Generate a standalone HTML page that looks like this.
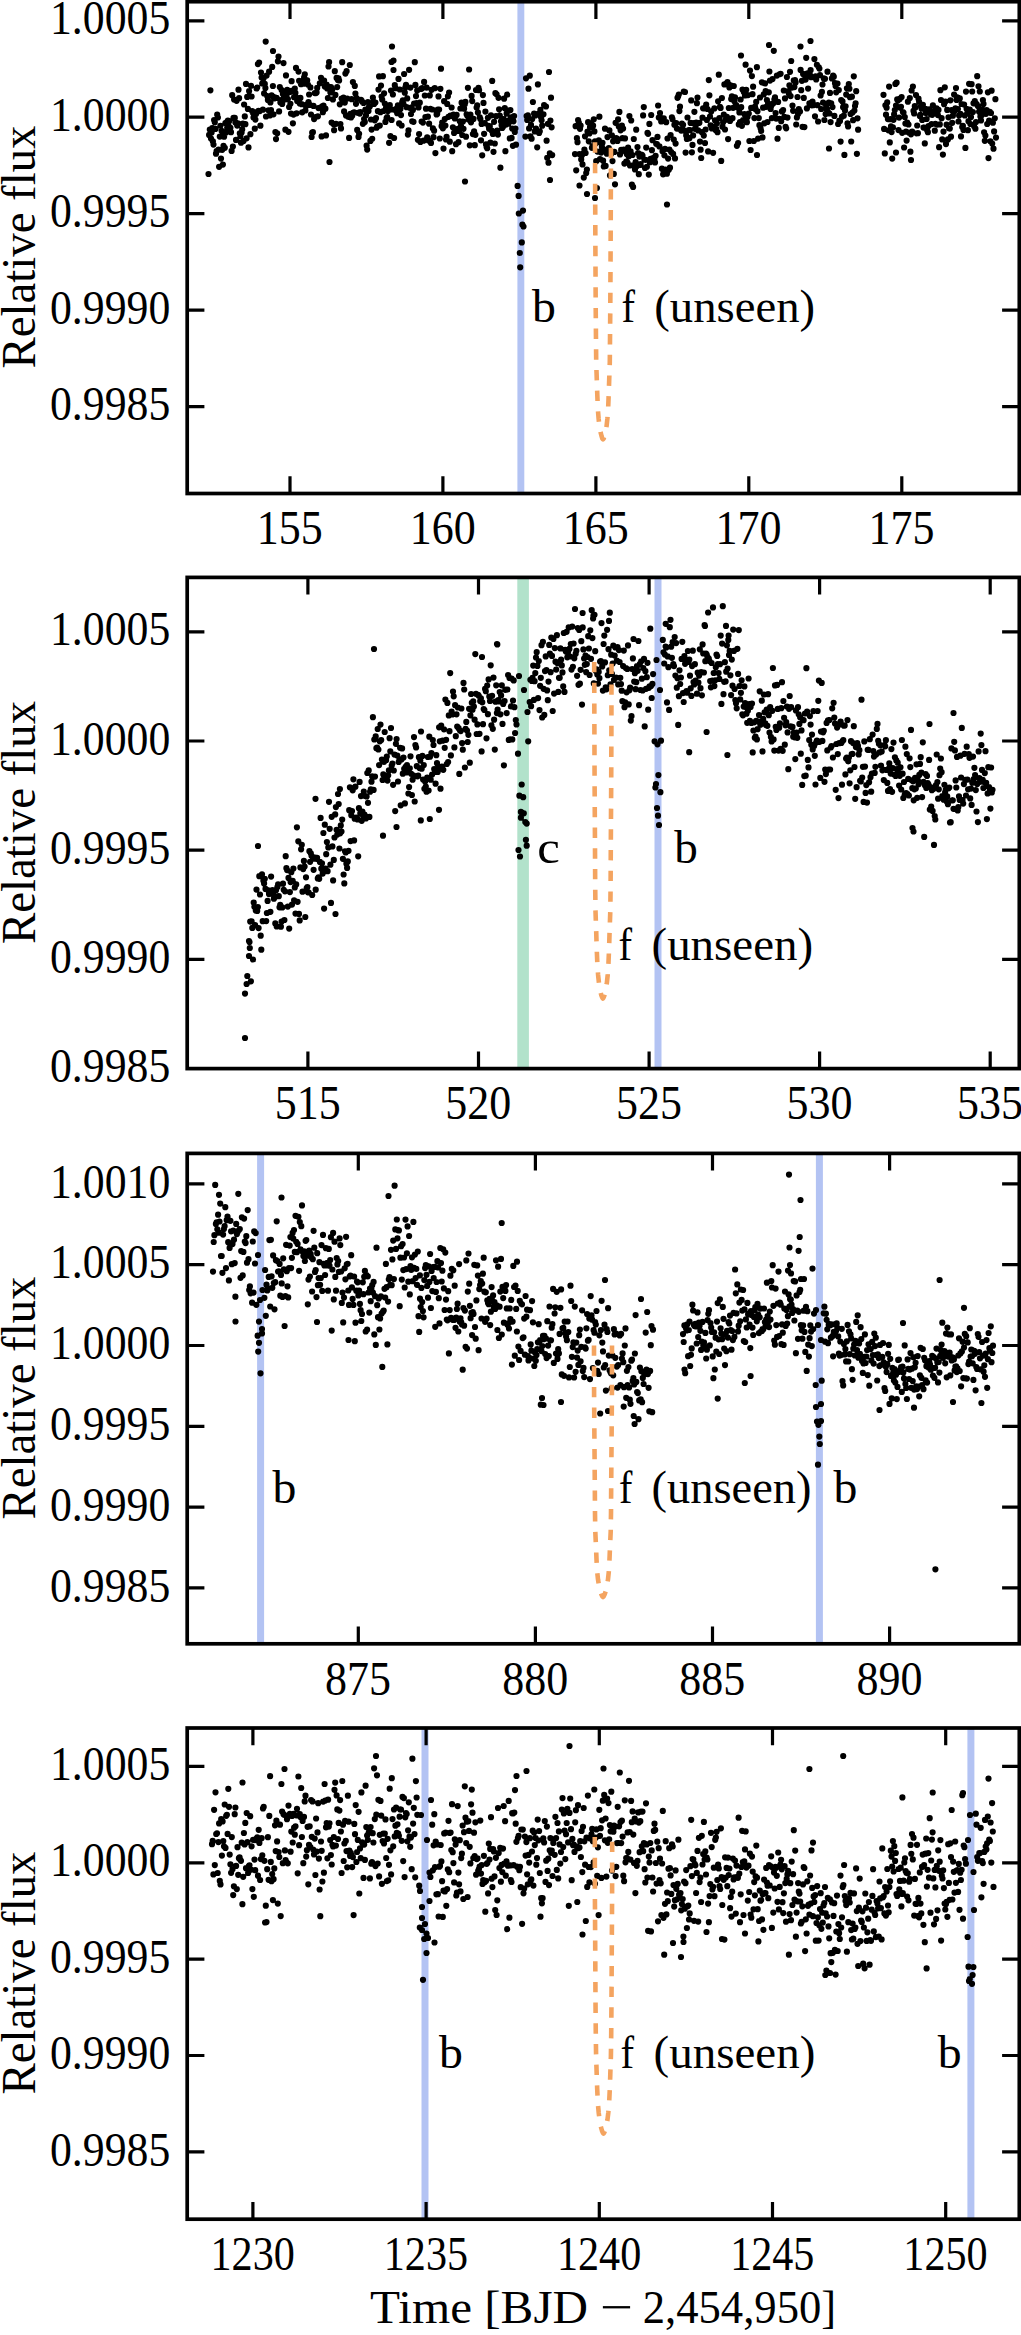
<!DOCTYPE html>
<html lang="en">
<head>
<meta charset="utf-8">
<title>Relative flux vs. time</title>
<style>
html,body{margin:0;padding:0;background:#fff}
svg{display:block}
text{font-family:"Liberation Serif", "DejaVu Serif", serif;fill:#000}
.n{font-size:49.4px}
.t{font-size:46.8px}
.yl{font-size:49.2px}
.sp{fill:none;stroke:#000;stroke-width:3.7}
.tk{fill:none;stroke:#000;stroke-width:3.2}
.dots{fill:none;stroke:#000;stroke-width:6.2;stroke-linecap:round}
.tr{fill:none;stroke:#f4a460;stroke-width:4.6;stroke-dasharray:10.35 10.35;stroke-linejoin:round}
</style>
</head>
<body>
<svg width="1021" height="2335" viewBox="0 0 1021 2335">
<rect width="1021" height="2335" fill="#fff"/>
<g id="panel1">
<rect x="517.4" y="1.7" width="6.9" height="491.8" fill="#b3c3f3"/>
<path class="dots" d="M208.5 174h0M209.1 134.9h0M209.8 129.6h0M210.4 90.3h0M211 138.5h0M211.6 132.5h0M212.2 128h0M212.9 141.4h0M213.5 144.6h0M214.1 120.1h0M214.8 122.2h0M215.4 128.9h0M216 153.7h0M216.6 151h0M217.2 114.7h0M217.9 117.5h0M218.5 149.7h0M219.1 166.8h0M219.8 136.6h0M220.4 125.8h0M221 158.6h0M221.6 130.9h0M222.2 149.8h0M222.9 164.6h0M223.5 145.9h0M224.1 136.7h0M224.8 147.8h0M225.4 123h0M226 132.6h0M226.6 122.3h0M227.2 127.8h0M227.9 120.7h0M228.5 125.5h0M229.1 121.2h0M229.8 129.6h0M230.4 127.8h0M231 132.2h0M231.6 150.9h0M232.2 95.2h0M232.9 146.5h0M233.5 117.9h0M234.1 99.6h0M234.8 117.9h0M235.4 122.4h0M236 139.9h0M236.6 100.8h0M237.2 125.6h0M237.9 123.4h0M238.5 89.7h0M239.1 98.2h0M239.8 133.3h0M240.4 136.2h0M241 142.7h0M241.6 132.4h0M242.2 129.4h0M242.9 123.7h0M243.5 141.1h0M244.1 104.5h0M244.8 116.4h0M245.4 124.2h0M246 83.9h0M246.6 138.3h0M247.2 96.9h0M247.9 108.9h0M248.5 147.4h0M249.1 91.1h0M249.8 96.2h0M250.4 134.2h0M251 85.8h0M251.6 96.5h0M252.2 111.2h0M252.9 112.7h0M253.5 117.6h0M254.1 112.1h0M254.8 128.7h0M255.4 119.6h0M256 113.9h0M256.6 88.4h0M257.2 87.6h0M257.9 64.1h0M258.5 110.8h0M259.1 62.6h0M259.8 111.1h0M260.4 125.7h0M261 72.6h0M261.6 77.6h0M262.2 83.5h0M262.9 109.7h0M263.5 78.5h0M264.1 93.4h0M264.8 83.9h0M265.4 88.1h0M266 116.5h0M266.6 75.6h0M267.2 96.1h0M267.9 100.1h0M268.5 110.3h0M269.1 71.7h0M269.8 115.4h0M270.4 102.4h0M271 110.1h0M271.6 95.3h0M272.2 66.9h0M272.9 86h0M273.5 114.3h0M274.1 98.4h0M274.8 97.3h0M275.4 132h0M276 139.1h0M276.6 97.8h0M277.2 133.3h0M277.9 61.3h0M278.5 56.6h0M279.1 111.4h0M279.8 87h0M280.4 102.4h0M281 100.1h0M281.6 90h0M282.2 103.9h0M282.9 93.9h0M283.5 63.1h0M284.1 97h0M284.8 99.4h0M285.4 129.7h0M286 75.4h0M286.6 94.8h0M287.2 89.8h0M287.9 99.1h0M288.5 131.8h0M289.1 107h0M289.8 91.9h0M290.4 103.8h0M291 113.6h0M291.6 81.2h0M292.2 90.7h0M292.9 123.3h0M293.5 114.6h0M294.1 97.2h0M294.8 88.6h0M295.4 92.9h0M296 67.9h0M296.6 113.3h0M297.2 101.1h0M297.9 98.1h0M298.5 71.6h0M299.1 80.8h0M299.8 103.5h0M300.4 97.9h0M301 84.2h0M301.6 104.2h0M302.2 112.3h0M302.9 81.3h0M303.5 83.7h0M304.1 77.4h0M304.8 74.3h0M305.4 110.5h0M306 106.2h0M306.6 104.7h0M307.2 80.3h0M307.9 84.6h0M308.5 102h0M309.1 94.5h0M309.8 104.9h0M310.4 87.4h0M311 114.5h0M311.6 137h0M312.2 132.7h0M312.9 132.2h0M313.5 105.9h0M314.1 119.1h0M314.8 93.1h0M315.4 117.1h0M316 93.1h0M316.6 92.4h0M317.2 87.9h0M317.9 116.3h0M318.5 108.1h0M319.1 107.9h0M319.8 83.3h0M320.4 107.5h0M321 77.8h0M321.6 136.4h0M322.2 106.3h0M322.9 112.2h0M323.5 105.7h0M324.1 80.6h0M324.8 86.6h0M325.4 108.7h0M326 135.4h0M326.6 84.6h0M327.2 88.4h0M327.9 98h0M328.5 66.5h0M329.1 62.2h0M329.8 87h0M330.4 92.5h0M331 87h0M331.6 122.6h0M332.2 89.8h0M332.9 99.4h0M333.5 124h0M334.1 130.2h0M334.8 71.2h0M335.4 94.9h0M336 123.8h0M336.6 77.9h0M337.2 87.1h0M337.9 80.1h0M338.5 78.4h0M339.1 80.4h0M339.8 104.3h0M340.4 124.1h0M341 128.4h0M341.6 98.6h0M342.2 62.2h0M342.9 101.3h0M343.5 97.6h0M344.1 111.4h0M344.8 102.6h0M345.4 73.6h0M346 115.5h0M346.6 71.2h0M347.2 98.6h0M347.9 116.6h0M348.5 116.8h0M349.1 137.9h0M349.8 65h0M350.4 113.9h0M351 117.4h0M351.6 99.2h0M352.2 115.7h0M352.9 82h0M353.5 112.7h0M354.1 112.3h0M354.8 85.9h0M355.4 93.6h0M356 103.8h0M356.6 98.2h0M357.2 129.9h0M357.9 112.8h0M358.5 136.9h0M359.1 133.8h0M359.8 113.6h0M360.4 112.1h0M361 99.8h0M361.6 100.7h0M362.2 101.8h0M362.9 123.8h0M363.5 102.9h0M364.1 119h0M364.8 121.9h0M365.4 109.7h0M366 115.3h0M366.6 145.7h0M367.2 149.6h0M367.9 102h0M368.5 111h0M369.1 106.5h0M369.8 106.4h0M370.4 140.9h0M371 119.5h0M371.6 129.6h0M372.2 138.8h0M372.9 97.6h0M373.5 101.5h0M374.1 104h0M374.8 120.3h0M375.4 102.5h0M376 118.2h0M376.6 127.7h0M377.2 126.7h0M377.9 111.2h0M378.5 89.6h0M379.1 76.4h0M379.8 125.6h0M380.4 112.2h0M381 85.6h0M381.6 96.5h0M382.2 99.6h0M382.9 76.2h0M383.5 111h0M384.1 93.3h0M384.8 103.5h0M385.4 121.9h0M386 107.9h0M386.6 118.2h0M387.2 117h0M387.9 111.1h0M388.5 109.9h0M389.1 142.8h0M389.8 105.2h0M390.4 136.1h0M391 90.5h0M391.6 120h0M392.2 109.5h0M392.9 94.5h0M393.5 60.5h0M394.1 138h0M394.8 85.2h0M395.4 88.2h0M396 110.8h0M396.6 108.5h0M397.2 113.2h0M397.9 105.4h0M398.5 78.9h0M399.1 123.4h0M399.8 89.5h0M400.4 108.9h0M401 115.1h0M401.6 125.5h0M402.2 102.2h0M402.9 100.4h0M403.5 104h0M404.1 74h0M404.8 92.7h0M405.4 87.4h0M406 84.8h0M406.6 107.2h0M407.2 98.4h0M407.9 134.6h0M408.5 130.4h0M409.1 69.8h0M409.8 107.8h0M410.4 87.6h0M411 114h0M411.6 107.4h0M412.2 121.3h0M412.9 110.1h0M413.5 121.8h0M414.1 103.5h0M414.8 62.2h0M415.4 84.9h0M416 96.1h0M416.6 103.2h0M417.2 90.4h0M417.9 139.8h0M418.5 107.4h0M419.1 134h0M419.8 102.7h0M420.4 141.9h0M421 88.9h0M421.6 121.6h0M422.2 88.2h0M422.9 122.6h0M423.5 140.7h0M424.1 81.9h0M424.8 95.5h0M425.4 117h0M426 108.7h0M426.6 87.6h0M427.2 137.3h0M427.9 116.7h0M428.5 140.5h0M429.1 123.7h0M429.8 95.4h0M430.4 108.8h0M431 142.9h0M431.6 89.8h0M432.2 109.5h0M432.9 128.4h0M433.5 137.2h0M434.1 130.7h0M434.8 88.2h0M435.4 153.1h0M436 110.3h0M436.6 114.5h0M437.2 113.9h0M437.9 109.6h0M438.5 96.4h0M439.1 109.5h0M439.8 138.5h0M440.4 88.8h0M441 68.7h0M441.6 126.2h0M442.2 122.5h0M442.9 128.3h0M443.5 148.6h0M444.1 101.2h0M444.8 119.1h0M445.4 125.6h0M446 139.5h0M446.6 136.8h0M447.2 103.9h0M447.9 96.3h0M448.5 116.8h0M449.1 92.6h0M449.8 141.7h0M450.4 115.6h0M451 115.9h0M451.6 107.5h0M452.2 151.2h0M452.9 127.3h0M453.5 114.6h0M454.1 132.9h0M454.8 118.5h0M455.4 131.4h0M456 144.2h0M456.6 114.9h0M457.2 129.9h0M457.9 128.9h0M458.5 142.2h0M459.1 130.9h0M459.8 121.3h0M460.4 108.5h0M461 125.6h0M461.6 102.7h0M462.2 135h0M462.9 121.6h0M463.5 128.8h0M464.1 108.7h0M464.8 104.3h0M465.4 101.9h0M466 136.7h0M466.6 114.3h0M467.2 115.4h0M467.9 87.8h0M468.5 119.6h0M469.1 69.5h0M469.8 145.3h0M470.4 114.6h0M471 122.3h0M471.6 95.9h0M472.2 101.1h0M472.9 134.1h0M473.5 118.9h0M474.1 131.3h0M474.8 145.2h0M475.4 134.8h0M476 90h0M476.6 107.6h0M477.2 105.4h0M477.9 112.4h0M478.5 87.8h0M479.1 90.2h0M479.8 117.4h0M480.4 119h0M481 140.3h0M481.6 123.9h0M482.2 155.3h0M482.9 95.1h0M483.5 102.9h0M484.1 133.8h0M484.8 123.2h0M485.4 111.6h0M486 144.4h0M486.6 146.9h0M487.2 148.2h0M487.9 117.8h0M488.5 125.8h0M489.1 128.7h0M489.8 126.2h0M490.4 142.7h0M491 115.4h0M491.6 130.6h0M492.2 80.9h0M492.9 133.9h0M493.5 151.8h0M494.1 121.8h0M494.8 143.5h0M495.4 93.2h0M496 116.2h0M496.6 94.3h0M497.2 130.7h0M497.9 134.6h0M498.5 97.8h0M499.1 109.3h0M499.8 115.6h0M500.4 167.7h0M501 121.3h0M501.6 125.3h0M502.2 128h0M502.9 127.1h0M503.5 119.1h0M504.1 98.7h0M504.8 108.2h0M505.4 151.2h0M506 124.6h0M506.6 113.7h0M507.2 94.7h0M507.9 120.5h0M508.5 123.6h0M509.1 110.4h0M509.8 138.4h0M510.4 110.1h0M511 117.3h0M511.6 137.9h0M512.2 128.6h0M512.9 145.8h0M513.5 121.3h0M514.1 116.1h0M514.8 132h0M515.4 128.6h0M516 144.7h0M525.4 136.6h0M526 78.3h0M526.6 116h0M527.2 120h0M527.9 115.4h0M528.5 88.7h0M529.1 128.4h0M529.8 75.7h0M530.4 136.4h0M531 124.9h0M531.6 138.7h0M532.2 119h0M532.9 102h0M534.1 113.7h0M534.8 131.4h0M535.4 115.4h0M536 128.7h0M536.6 130.8h0M537.2 147.3h0M537.9 84.4h0M538.5 113.5h0M539.1 132.9h0M539.8 131.3h0M540.4 109.8h0M541 117.3h0M541.6 120.3h0M542.2 125.7h0M542.9 114.5h0M543.5 114.3h0M544.1 105.2h0M546 106.5h0M546.6 140.7h0M547.2 157.8h0M547.9 123.8h0M548.5 162.7h0M549.8 153.3h0M550.4 120.6h0M551 97.7h0M551.6 127.3h0M552.2 155.1h0M575 154.1h0M575.6 126.2h0M576.2 170.3h0M576.9 138.2h0M577.5 142.2h0M578.1 120.1h0M578.8 122.5h0M579.4 154.1h0M580 128.8h0M580.6 125.7h0M581.2 159.4h0M581.9 155.2h0M582.5 164.4h0M583.1 153.5h0M583.8 177.6h0M584.4 149.7h0M585 136.3h0M585.6 153h0M586.2 173h0M586.9 169.6h0M587.5 131.6h0M588.1 122.2h0M588.8 141.3h0M589.4 133.4h0M590 127.2h0M590.6 123.3h0M591.2 124.1h0M591.9 147.8h0M592.5 146.2h0M593.1 125.7h0M593.8 119.3h0M594.4 131.4h0M595 141.3h0M595.6 143.4h0M596.2 161.2h0M596.9 188h0M597.5 151.6h0M598.1 142.2h0M598.8 140.4h0M599.4 116.7h0M600 159.1h0M600.6 151.3h0M601.2 152.6h0M601.9 146.7h0M602.5 142.8h0M603.1 160.7h0M603.8 166.5h0M604.4 149.6h0M605 128.7h0M605.6 165.9h0M606.2 150.6h0M606.9 153.7h0M607.5 137.1h0M608.1 149.5h0M608.8 148h0M609.4 130.4h0M610 175.4h0M610.6 151.7h0M611.2 153.8h0M611.9 135.3h0M612.5 161.1h0M613.1 141.3h0M613.8 173.9h0M614.4 151.9h0M615 184.3h0M615.6 122.8h0M616.2 138.1h0M616.9 138.6h0M617.5 140.9h0M618.1 119.4h0M618.8 126.5h0M619.4 111.9h0M620 154.4h0M620.6 130.3h0M621.2 149.9h0M621.9 125.7h0M622.5 138.2h0M623.1 128.6h0M623.8 149.5h0M624.4 163.6h0M625 138.4h0M625.6 151.8h0M626.2 161.6h0M626.9 154.2h0M627.5 162.7h0M628.1 147.7h0M628.8 156.3h0M629.4 116.1h0M630 165.4h0M630.6 151.3h0M631.2 120.5h0M631.9 184.7h0M632.5 155h0M633.1 186.9h0M633.8 139h0M634.4 164.8h0M635 169.4h0M635.6 162.1h0M636.2 129.7h0M636.9 166h0M637.5 147.1h0M638.1 153h0M638.8 174.2h0M639.4 156.6h0M640 165h0M640.6 164h0M641.2 154.5h0M641.9 154.8h0M642.5 155.6h0M643.1 115.4h0M643.8 107.1h0M644.4 159.6h0M645 168h0M645.6 159.8h0M646.2 147.6h0M646.9 166.8h0M647.5 132.9h0M648.1 133.8h0M648.8 174.6h0M649.4 123.9h0M650 162.2h0M650.6 158.9h0M651.2 115h0M651.9 150.2h0M652.5 140.2h0M653.1 158h0M653.8 157.8h0M654.4 159.1h0M655 162.4h0M655.6 155.8h0M656.2 143.8h0M656.9 144.2h0M657.5 136.9h0M658.1 105.5h0M658.8 117.5h0M659.4 146.4h0M660 113h0M660.6 117.7h0M661.2 121.5h0M661.9 168.7h0M662.5 151.3h0M663.1 174.3h0M663.8 118.3h0M664.4 155.3h0M665 148.9h0M665.6 169.5h0M666.2 122.2h0M666.9 173.7h0M667.5 138.5h0M668.1 158.6h0M668.8 169.7h0M669.4 149.5h0M670 167.7h0M670.6 135h0M671.2 152h0M671.9 117.3h0M672.5 119.2h0M673.1 153.9h0M673.8 139.5h0M674.4 124.8h0M675 158.4h0M675.6 143.6h0M676.2 123.1h0M676.9 128.6h0M677.5 97.8h0M678.1 96.5h0M678.8 94.6h0M679.4 111.1h0M680 106.7h0M680.6 129.3h0M681.2 130.6h0M681.9 123.6h0M682.5 128.8h0M683.1 124.8h0M683.8 91.5h0M684.4 130.8h0M685 92h0M685.6 152.6h0M686.2 135.4h0M686.9 139h0M687.5 117.5h0M688.1 138.5h0M688.8 130.2h0M689.4 138.2h0M690 130.1h0M690.6 122.9h0M691.2 100.4h0M691.9 152.3h0M692.5 144.9h0M693.1 135.4h0M693.8 123.1h0M694.4 111.8h0M695 128.8h0M695.6 126.3h0M696.2 122.6h0M696.9 103.2h0M697.5 97.6h0M698.1 130.4h0M698.8 123h0M699.4 122.8h0M700 141.6h0M700.6 149.7h0M701.2 158h0M701.9 132.2h0M702.5 117.7h0M703.1 108.3h0M703.8 135.6h0M704.4 108.4h0M705 143h0M705.6 129.5h0M706.2 104.5h0M706.9 120h0M707.5 109h0M708.1 151.4h0M708.8 80.1h0M709.4 95.3h0M710 116.6h0M710.6 125.3h0M711.2 111.5h0M711.9 128.4h0M712.5 126.5h0M713.1 152.8h0M713.8 126.9h0M714.4 108.4h0M715 120.3h0M715.6 129.9h0M716.2 128.8h0M716.9 123.3h0M717.5 132.2h0M718.1 101.3h0M718.8 74.7h0M719.4 118h0M720 106.8h0M720.6 107.9h0M721.2 160.9h0M721.9 98h0M722.5 126.7h0M723.1 122.3h0M723.8 114.6h0M724.4 84.4h0M725 129.5h0M725.6 119.8h0M726.2 116.6h0M726.9 116.8h0M727.5 82.1h0M728.1 139.1h0M728.8 108h0M729.4 87.4h0M730 121h0M730.6 85.3h0M731.2 99.1h0M731.9 96.3h0M732.5 118.2h0M733.1 107.8h0M733.8 86h0M734.4 101.3h0M735 97.3h0M735.6 105.5h0M736.2 105.2h0M736.9 145.8h0M737.5 107.4h0M738.1 143.1h0M738.8 124.4h0M739.4 112.4h0M740 122.1h0M740.6 99.5h0M741.2 107.2h0M741.9 125.8h0M742.5 89.5h0M743.1 120h0M743.8 92h0M744.4 114.2h0M745 95.4h0M745.6 64.7h0M746.2 89.8h0M746.9 122.2h0M747.5 116.9h0M748.1 95.1h0M748.8 113.5h0M749.4 141h0M750 70.6h0M750.6 150h0M751.2 107.9h0M751.9 76.1h0M752.5 94.2h0M753.1 86.7h0M753.8 141h0M754.4 118.1h0M755 106.5h0M755.6 109.2h0M756.2 101.9h0M756.9 67.2h0M757.5 111.3h0M758.1 138.6h0M758.8 118.1h0M759.4 125.2h0M760 97.5h0M760.6 128.3h0M761.2 130.9h0M761.9 82.3h0M762.5 137.4h0M763.1 107.7h0M763.8 94.4h0M764.4 123.3h0M765 83.4h0M765.6 91h0M766.2 106.8h0M766.9 100.1h0M767.5 122h0M768.1 103.4h0M768.8 92.3h0M769.4 71.5h0M770 80.6h0M770.6 109h0M771.2 105.9h0M771.9 118.1h0M772.5 79.1h0M773.1 103.5h0M773.8 50.8h0M774.4 99.4h0M775 97.3h0M775.6 113h0M776.2 118.6h0M776.9 75.6h0M777.5 138.7h0M778.1 101.9h0M778.8 127.9h0M779.4 118.8h0M780 74.1h0M780.6 73.8h0M781.2 121.2h0M781.9 111.4h0M782.5 111.3h0M783.1 110.1h0M783.8 90.5h0M784.4 116.8h0M785 98.4h0M785.6 126.9h0M786.2 128.3h0M786.9 77h0M787.5 117.6h0M788.1 91h0M788.8 93.2h0M789.4 85.3h0M790 71.8h0M790.6 96.1h0M791.2 61h0M791.9 87.6h0M792.5 105.6h0M793.1 110.8h0M793.8 80.4h0M794.4 87.1h0M795 80h0M795.6 82.4h0M796.2 124.5h0M796.9 117.4h0M797.5 97h0M798.1 113.9h0M798.8 109h0M799.4 110.9h0M800 111.6h0M800.6 69.9h0M801.2 90.2h0M801.9 80.8h0M802.5 126.8h0M803.1 73.9h0M803.8 97.9h0M804.4 127.1h0M805 75.8h0M805.6 79.6h0M806.2 57.8h0M806.9 108.4h0M807.5 73.4h0M808.1 88.6h0M808.8 74.2h0M809.4 103.3h0M810 75h0M810.6 70.2h0M811.2 77.2h0M811.9 105.3h0M812.5 101.6h0M813.1 104.8h0M813.8 105.1h0M814.4 59.1h0M815 116.3h0M815.6 76.4h0M816.2 79.5h0M816.9 64.8h0M817.5 105.2h0M818.1 121.5h0M818.8 67.3h0M819.4 68.6h0M820 75.2h0M820.6 95.5h0M821.2 109h0M821.9 91.9h0M822.5 84.5h0M823.1 102.6h0M823.8 78.4h0M824.4 120h0M825 78.8h0M825.6 114.1h0M826.2 105.4h0M826.9 109.4h0M827.5 71.7h0M828.1 112.4h0M828.8 102.6h0M829.4 113.5h0M830 92.9h0M830.6 122.1h0M831.2 103.3h0M831.9 78.4h0M832.5 107.1h0M833.1 75.5h0M833.8 76.7h0M834.4 115.9h0M835 83.2h0M835.6 85.9h0M836.2 92.3h0M836.9 83.8h0M837.5 83.6h0M838.1 124h0M838.8 90.1h0M839.4 120.5h0M840 121.1h0M840.6 141.6h0M841.2 100h0M841.9 116.8h0M842.5 101.4h0M843.1 107.2h0M843.8 115.7h0M844.4 154.9h0M845 110.6h0M845.6 106.3h0M846.2 94.6h0M846.9 88.3h0M847.5 123.4h0M848.1 126.4h0M848.8 84.1h0M849.4 88.7h0M850 97.2h0M850.6 114h0M851.2 141.5h0M851.9 96.7h0M852.5 112.5h0M853.1 120.2h0M853.8 76.3h0M854.4 110.5h0M855 106.1h0M855.6 103.3h0M856.2 91.2h0M856.9 153.8h0M857.5 118.3h0M858.1 129.7h0M883.5 94.8h0M884.1 128.9h0M884.8 153.4h0M885.4 105.3h0M886 114.7h0M886.6 107.7h0M887.2 102.4h0M887.9 119.1h0M888.5 130.3h0M889.1 86.6h0M889.8 142.4h0M890.4 119.1h0M891 126.4h0M891.6 132.1h0M892.2 158.6h0M892.9 127.3h0M893.5 119.8h0M894.1 114.4h0M894.8 110.1h0M895.4 83.9h0M896 105.6h0M896.6 82.7h0M897.2 99.4h0M897.9 100.5h0M898.5 130.1h0M899.1 117.6h0M899.8 98.9h0M900.4 107.7h0M901 106.8h0M901.6 97.1h0M902.2 132.8h0M902.9 112.1h0M903.5 112.6h0M904.1 147.5h0M904.8 117.1h0M905.4 123.6h0M906 131.6h0M906.6 140.6h0M907.2 122.7h0M907.9 101.7h0M908.5 124.5h0M909.1 132.8h0M909.8 98.1h0M910.4 151.7h0M911 134.3h0M911.6 90.5h0M912.2 131.6h0M912.9 86.6h0M913.5 110.9h0M914.1 113.4h0M914.8 106.2h0M915.4 107.6h0M916 95.1h0M916.6 133.3h0M917.2 125.5h0M917.9 133.2h0M918.5 98.7h0M919.1 101.8h0M919.8 116h0M920.4 114.9h0M921 105.8h0M921.6 108.7h0M922.2 119.9h0M922.9 104.8h0M923.5 127.6h0M924.1 127.6h0M924.8 143.4h0M925.4 108.8h0M926 113h0M926.6 119h0M927.2 130.6h0M927.9 132.2h0M928.5 126h0M929.1 109.4h0M929.8 111.4h0M930.4 111.8h0M931 114.5h0M931.6 124.1h0M932.2 114.8h0M932.9 105.4h0M933.5 113.3h0M934.1 111.4h0M934.8 130.7h0M935.4 123.8h0M936 108.6h0M936.6 108.3h0M937.2 124.6h0M937.9 115.1h0M938.5 109.9h0M939.1 147.2h0M939.8 124.4h0M940.4 90.2h0M941 100h0M941.6 118.2h0M942.2 139.4h0M942.9 154.6h0M943.5 131.6h0M944.1 104.2h0M944.8 87.3h0M945.4 101.5h0M946 144.1h0M946.6 124.7h0M947.2 109.9h0M947.9 139.4h0M948.5 117.3h0M949.1 128.3h0M949.8 128.6h0M950.4 100.3h0M951 136.7h0M951.6 110.1h0M952.2 122.8h0M952.9 115.7h0M953.5 112.6h0M954.1 94.6h0M954.8 110.6h0M955.4 108.4h0M956 88.1h0M956.6 99.9h0M957.2 97.4h0M957.9 109h0M958.5 121.5h0M959.1 115.5h0M959.8 98.4h0M960.4 113.8h0M961 136.4h0M961.6 104h0M962.2 127.1h0M962.9 125.9h0M963.5 129.9h0M964.1 104.6h0M964.8 115.5h0M965.4 147.9h0M966 91.6h0M966.6 108.8h0M967.2 113.4h0M967.9 130.2h0M968.5 121.2h0M969.1 83.8h0M969.8 109.7h0M970.4 124h0M971 117.1h0M971.6 84.2h0M972.2 91.5h0M972.9 112h0M973.5 103.3h0M974.1 126.2h0M974.8 101h0M975.4 128.7h0M976 122h0M976.6 104.1h0M977.2 76.2h0M977.9 106h0M978.5 86.3h0M979.1 111.7h0M979.8 91.5h0M980.4 116.5h0M981 120.4h0M981.6 115.2h0M982.2 109.3h0M982.9 100.1h0M983.5 103.9h0M984.1 132.3h0M984.8 140.8h0M985.4 135.6h0M986 113.8h0M986.6 110.2h0M987.2 124h0M987.9 92.3h0M988.5 158.1h0M989.1 120.7h0M989.8 111.9h0M990.4 141.3h0M991 113h0M991.6 90.7h0M992.2 143.5h0M992.9 122.7h0M993.5 148.7h0M994.1 131.4h0M994.8 118.3h0M995.4 99.2h0M996 137.6h0M517.6 185.9h0M518.6 195.9h0M518.8 213.5h0M523 210.6h0M522.4 224.7h0M523.5 226.5h0M521.8 242.4h0M519.8 253h0M520.2 267.3h0M265.7 41.6h0M273 51h0M392 46.5h0M391.5 62h0M393.5 70h0M465 181.5h0M329.5 162h0M550 180h0M549 72h0M667 204.5h0M587 194h0M579.5 185.5h0M595 198h0M769 45h0M810.5 41h0M800.5 46.5h0M741 55.5h0M829 148.5h0M757 155h0M911 160h0M896 152.5h0"/>
<path class="tr" d="M595 142.3 L595.2 201.7 L595.4 249.2 L595.7 305.7 L596 340.4 L596.2 362.1 L596.8 379.9 L597.3 394.8 L597.9 409.6 L598.6 418.5 L599.4 425.9 L600.5 431.9 L601.6 436.3 L602.4 438.7 L603 439.3 L603.6 438.7 L604.4 436.3 L605.5 431.9 L606.6 425.9 L607.4 418.5 L608.1 409.6 L608.7 394.8 L609.2 379.9 L609.8 362.1 L610 340.4 L610.3 305.7 L610.6 249.2 L610.8 201.7 L611 142.3"/>
<path class="tk" d="M187.2 20.8h17.2M1019.3 20.8h-17.2M187.2 117.2h17.2M1019.3 117.2h-17.2M187.2 213.7h17.2M1019.3 213.7h-17.2M187.2 310.2h17.2M1019.3 310.2h-17.2M187.2 406.6h17.2M1019.3 406.6h-17.2M290 1.7v17.2M290 493.5v-17.2M442.9 1.7v17.2M442.9 493.5v-17.2M595.9 1.7v17.2M595.9 493.5v-17.2M748.8 1.7v17.2M748.8 493.5v-17.2M901.8 1.7v17.2M901.8 493.5v-17.2"/>
<rect class="sp" x="187.2" y="1.7" width="832.1" height="491.8"/>
<text class="n" x="170.3" y="34.4" text-anchor="end" textLength="120.3" lengthAdjust="spacingAndGlyphs">1.0005</text>
<text class="n" x="170.3" y="130.8" text-anchor="end" textLength="120.3" lengthAdjust="spacingAndGlyphs">1.0000</text>
<text class="n" x="170.3" y="227.3" text-anchor="end" textLength="120.3" lengthAdjust="spacingAndGlyphs">0.9995</text>
<text class="n" x="170.3" y="323.8" text-anchor="end" textLength="120.3" lengthAdjust="spacingAndGlyphs">0.9990</text>
<text class="n" x="170.3" y="420.2" text-anchor="end" textLength="120.3" lengthAdjust="spacingAndGlyphs">0.9985</text>
<text class="n" x="289.8" y="544.3" text-anchor="middle" textLength="66" lengthAdjust="spacingAndGlyphs">155</text>
<text class="n" x="442.8" y="544.3" text-anchor="middle" textLength="66" lengthAdjust="spacingAndGlyphs">160</text>
<text class="n" x="595.7" y="544.3" text-anchor="middle" textLength="66" lengthAdjust="spacingAndGlyphs">165</text>
<text class="n" x="748.6" y="544.3" text-anchor="middle" textLength="66" lengthAdjust="spacingAndGlyphs">170</text>
<text class="n" x="901.6" y="544.3" text-anchor="middle" textLength="66" lengthAdjust="spacingAndGlyphs">175</text>
<text class="yl" transform="translate(34.6 247) rotate(-90)" text-anchor="middle" textLength="243" lengthAdjust="spacingAndGlyphs">Relative flux</text>
<text class="t" x="532" y="321.7" textLength="23.9" lengthAdjust="spacingAndGlyphs">b</text>
<text class="t" y="321.7"><tspan x="621.5" textLength="13.5" lengthAdjust="spacingAndGlyphs">f</tspan> <tspan x="654.3" textLength="160.8" lengthAdjust="spacingAndGlyphs">(unseen)</tspan></text>
</g>
<g id="panel2">
<rect x="517.3" y="577.4" width="11.6" height="491.2" fill="#b2e2cb"/>
<rect x="654.5" y="577.4" width="7" height="491.2" fill="#b3c3f3"/>
<path class="dots" d="M249.5 942.1h0M250.2 921.6h0M250.9 981.3h0M251.6 921.3h0M252.3 927.9h0M253 959.5h0M253.7 902.5h0M254.4 906.8h0M255.1 925.2h0M255.8 910.6h0M256.5 889.6h0M257.2 910.9h0M257.9 907h0M258.6 928.1h0M259.3 876.2h0M260 894.5h0M260.7 935.7h0M261.3 949.7h0M262 874.4h0M262.7 921.2h0M263.4 880.8h0M264.1 883.4h0M264.8 878.8h0M265.5 888.9h0M266.2 921.1h0M266.9 913h0M267.6 900.9h0M268.3 890.4h0M269 894.1h0M269.7 890.9h0M270.4 911.8h0M271.1 876.6h0M271.8 891.6h0M272.5 890.1h0M273.2 893.9h0M273.9 898.7h0M274.6 897.5h0M275.3 923.4h0M276 890.3h0M276.7 926.4h0M277.4 887h0M278.1 884.4h0M278.8 896.2h0M279.5 907.3h0M280.2 904.8h0M280.9 926.7h0M281.6 921.5h0M282.3 907.4h0M283 883.7h0M283.7 889.8h0M284.4 920h0M285 891.3h0M285.7 856.2h0M286.4 868.2h0M287.1 870.1h0M287.8 906.6h0M288.5 877.9h0M289.2 928.6h0M289.9 892.1h0M290.6 882.1h0M291.3 872.2h0M292 904.6h0M292.7 880.9h0M293.4 868.5h0M294.1 900.3h0M294.8 887.4h0M295.5 913.6h0M296.2 884.4h0M296.9 827.3h0M297.6 901.8h0M298.3 841.3h0M299 913.9h0M299.7 920.4h0M300.4 867.4h0M301.1 849.3h0M301.8 844.8h0M302.5 891.7h0M303.2 869.1h0M303.9 860.9h0M304.6 866.6h0M305.3 917h0M306 877.3h0M306.7 888.2h0M307.4 887h0M308 892.2h0M308.7 892.5h0M309.4 851.2h0M310.1 861.8h0M310.8 853.3h0M311.5 855.8h0M312.2 895h0M312.9 858h0M313.6 869.8h0M314.3 858.7h0M315 857.7h0M315.7 889.7h0M316.4 858.8h0M317.1 857.8h0M317.8 878.4h0M318.5 877.3h0M319.2 878.8h0M319.9 861.9h0M320.6 817.9h0M321.3 868.7h0M322 863.3h0M322.7 873.6h0M323.4 833h0M324.1 908.6h0M324.8 824.7h0M325.5 868.7h0M326.2 854.2h0M326.9 842h0M327.6 871.2h0M328.3 847.4h0M329 801.8h0M329.7 828.8h0M330.4 864.7h0M331 902.9h0M331.7 816.8h0M332.4 846.4h0M333.1 880.4h0M333.8 859.9h0M334.5 837.5h0M335.2 814.4h0M335.9 807.1h0M336.6 829.8h0M337.3 834.6h0M338 794h0M338.7 804h0M339.4 848.5h0M340.1 833.3h0M340.8 825.4h0M341.5 831.6h0M342.2 819.6h0M342.9 858.8h0M343.6 874.5h0M344.3 883.4h0M345 851.3h0M345.7 852.5h0M346.4 863.7h0M347.1 867.9h0M347.8 861.4h0M348.5 850.8h0M349.2 810.2h0M349.9 787.3h0M350.6 841.1h0M351.3 815.2h0M352 811.1h0M352.7 790.3h0M353.4 779.3h0M354.1 840.4h0M354.7 818.7h0M355.4 786.7h0M356.1 817.5h0M356.8 817.8h0M357.5 819.4h0M358.2 856.3h0M358.9 808.2h0M359.6 781.9h0M360.3 813.3h0M361 796.1h0M361.7 820.8h0M362.4 811.6h0M363.1 815.7h0M363.8 791.6h0M364.5 814.5h0M365.2 796h0M365.9 818.4h0M366.6 796.5h0M367.3 773h0M368 802.8h0M368.7 770.4h0M369.4 816.9h0M370.1 791.7h0M370.8 789.4h0M371.5 781.7h0M372.2 776.4h0M372.9 717.2h0M373.6 789.9h0M374.3 739.5h0M375 776.6h0M375.7 736.4h0M376.4 748.2h0M377.1 747.7h0M377.7 729h0M378.4 749.5h0M379.1 765.1h0M379.8 741.3h0M380.5 724.6h0M381.2 740h0M381.9 759.5h0M382.6 780h0M383.3 774.4h0M384 761.8h0M384.7 732h0M385.4 776.6h0M386.1 760.2h0M386.8 756.6h0M387.5 780.6h0M388.2 775.3h0M388.9 770.4h0M389.6 738.2h0M390.3 751.3h0M391 728h0M391.7 765.6h0M392.4 763.6h0M393.1 784.8h0M393.8 770.5h0M394.5 754.6h0M395.2 811.1h0M395.9 743.8h0M396.6 739h0M397.3 755.6h0M398 781.5h0M398.7 762h0M399.4 759.8h0M400.1 747.8h0M400.7 805.3h0M401.4 759.4h0M402.1 748.4h0M402.8 773.7h0M403.5 757.5h0M404.2 768.8h0M404.9 803.4h0M405.6 766.8h0M406.3 772.4h0M407 765h0M407.7 770.3h0M408.4 793.5h0M409.1 787h0M409.8 768.3h0M410.5 756.3h0M411.2 773.8h0M411.9 795h0M412.6 779.7h0M413.3 775.3h0M414 737.1h0M414.7 801.5h0M415.4 745.1h0M416.1 747.4h0M416.8 766.2h0M417.5 776.3h0M418.2 775.7h0M418.9 757.2h0M419.6 768.1h0M420.3 760.6h0M421 731.5h0M421.7 768.7h0M422.4 755.9h0M423.1 779.5h0M423.8 765h0M424.4 788.8h0M425.1 781.6h0M425.8 786.5h0M426.5 791.7h0M427.2 777.7h0M427.9 757h0M428.6 790.5h0M429.3 736.7h0M430 756.7h0M430.7 779.7h0M431.4 753h0M432.1 774.6h0M432.8 740h0M433.5 745h0M434.2 769.1h0M434.9 771.8h0M435.6 783.7h0M436.3 755.2h0M437 763.2h0M437.7 772h0M438.4 767.9h0M439.1 727.3h0M439.8 741.3h0M440.5 788.7h0M441.2 725.5h0M441.9 766.5h0M442.6 740.7h0M443.3 769.8h0M444 729.3h0M444.7 747.8h0M445.4 699.6h0M446.1 739.8h0M446.8 764h0M447.4 702.9h0M448.1 762h0M448.8 715.4h0M449.5 731.2h0M450.2 673.1h0M450.9 755.4h0M451.6 711.7h0M452.3 714.4h0M453 691.5h0M453.7 696.3h0M454.4 747.4h0M455.1 705.2h0M455.8 736.2h0M456.5 714.3h0M457.2 726.6h0M457.9 707.5h0M458.6 728.2h0M459.3 773.9h0M460 730.6h0M460.7 731.1h0M461.4 708.5h0M462.1 743.1h0M462.8 749.7h0M463.5 682.9h0M464.2 689.5h0M464.9 767.5h0M465.6 728.9h0M466.3 721.9h0M467 730.6h0M467.7 742h0M468.4 734.8h0M469.1 708.8h0M469.8 762.7h0M470.4 715.3h0M471.1 694h0M471.8 702.8h0M472.5 709.7h0M473.2 701.4h0M473.9 706.6h0M474.6 719.7h0M475.3 654.1h0M476 693.8h0M476.7 734h0M477.4 724.4h0M478.1 694.9h0M478.8 695.8h0M479.5 733.8h0M480.2 701.1h0M480.9 698.3h0M481.6 751.4h0M482.3 702.3h0M483 724.2h0M483.7 709h0M484.4 710h0M485.1 688.9h0M485.8 691.2h0M486.5 738.3h0M487.2 685.6h0M487.9 714.2h0M488.6 679.4h0M489.3 696.6h0M490 701h0M490.7 665.3h0M491.4 725.3h0M492.1 695.8h0M492.8 728.8h0M493.5 677.6h0M494.1 719.7h0M494.8 749.6h0M495.5 701.7h0M496.2 685.3h0M496.9 713.1h0M497.6 709.6h0M498.3 700.2h0M499 701.4h0M499.7 692.1h0M500.4 714.3h0M501.1 695.4h0M501.8 685.3h0M502.5 723.9h0M503.2 704h0M503.9 765.3h0M504.6 701h0M505.3 689.8h0M506 689.7h0M506.7 713.1h0M507.4 689.5h0M508.1 675.1h0M508.8 739.9h0M509.5 678h0M510.2 739.4h0M510.9 706.4h0M511.6 678.6h0M512.3 739.4h0M513 700.5h0M513.7 680.4h0M514.4 707.2h0M515.1 733h0M515.8 720h0M516.5 724.5h0M529.7 702.1h0M530.4 679.8h0M531.1 706.2h0M531.8 680.9h0M532.5 677.9h0M533.2 665.6h0M533.9 699.9h0M534.6 681.2h0M535.3 673.1h0M536 657.5h0M536.7 652.2h0M537.4 665.9h0M538.1 698.1h0M538.8 661h0M539.5 710.1h0M540.1 685.8h0M540.8 677.8h0M541.5 645.2h0M542.2 717.5h0M542.9 641.9h0M543.6 688.8h0M544.3 714.9h0M545 671.1h0M545.7 656.4h0M546.4 670h0M547.1 690.4h0M547.8 700.2h0M548.5 681.6h0M549.2 644.9h0M549.9 653.6h0M550.6 672.2h0M551.3 637.6h0M552 655.9h0M552.7 711h0M553.4 638.9h0M554.1 693.6h0M554.8 648.1h0M555.5 661.7h0M556.2 669.6h0M556.9 635.2h0M557.6 663.2h0M558.3 691.9h0M559 677.8h0M559.7 677.8h0M560.4 648.4h0M561.1 659.7h0M561.8 665.4h0M562.5 672.4h0M563.2 686.4h0M563.8 633h0M564.5 691.9h0M565.2 649.9h0M565.9 651.6h0M566.6 631.8h0M567.3 657.3h0M568 652.3h0M568.7 627.4h0M569.4 648.9h0M570.1 656.5h0M570.8 644h0M571.5 669.6h0M572.2 626.6h0M572.9 666.8h0M573.6 643.5h0M574.3 658.3h0M575 609h0M575.7 653.7h0M576.4 650.8h0M577.1 675.8h0M577.8 628h0M578.5 684.8h0M579.2 630h0M579.9 683.7h0M580.6 669.8h0M581.3 641.2h0M582 704.6h0M582.7 627.4h0M583.4 649.4h0M584.1 658.5h0M584.8 664.8h0M585.5 655.6h0M586.2 672.2h0M586.8 664.1h0M587.5 657h0M588.2 636.2h0M588.9 648.5h0M589.6 675h0M590.3 630.3h0M591 658.8h0M591.7 610.2h0M592.4 638.1h0M593.1 618.5h0M593.8 683.4h0M594.5 614.8h0M595.2 651.2h0M595.9 671h0M596.6 669.3h0M597.3 674.4h0M598 683.6h0M598.7 671.9h0M599.4 678.2h0M600.1 661.5h0M600.8 661.1h0M601.5 623.1h0M602.2 666.4h0M602.9 690.6h0M603.6 644h0M604.3 635.6h0M605 662.4h0M605.7 687.4h0M606.4 689.3h0M607.1 629.8h0M607.8 675.2h0M608.5 649.2h0M609.2 670.3h0M609.8 612.7h0M610.5 684.3h0M611.2 654.7h0M611.9 673.8h0M612.6 663.6h0M613.3 645.6h0M614 679.8h0M614.7 655.5h0M615.4 647.4h0M616.1 677.6h0M616.8 660.6h0M617.5 647h0M618.2 684.4h0M618.9 650.1h0M619.6 662h0M620.3 677.8h0M621 684h0M621.7 690.7h0M622.4 701.2h0M623.1 666.1h0M623.8 650.6h0M624.5 707.2h0M625.2 702.3h0M625.9 668h0M626.6 692.3h0M627.3 669h0M628 645.4h0M628.7 704.4h0M629.4 690.3h0M630.1 687.5h0M630.8 720.6h0M631.5 716.2h0M632.2 669h0M632.9 658.4h0M633.5 639h0M634.2 681.6h0M634.9 673.2h0M635.6 689.2h0M636.3 682.2h0M637 666.2h0M637.7 670.8h0M638.4 641h0M639.1 705.2h0M639.8 664.1h0M640.5 690h0M641.2 661.3h0M641.9 678.7h0M642.6 690.5h0M643.3 668h0M644 658.8h0M644.7 726.4h0M645.4 671.2h0M646.1 688.8h0M646.8 677.2h0M647.5 662.8h0M648.2 709.7h0M648.9 687.8h0M649.6 686.4h0M650.3 628.7h0M651 685.9h0M651.7 698h0M652.4 683.9h0M653.1 674.1h0M662.8 639.9h0M663.5 652.3h0M664.2 663.5h0M664.9 654.6h0M665.6 646.5h0M666.3 647.4h0M667 702.4h0M667.7 656.4h0M668.4 667.2h0M669.1 709.9h0M669.8 627.2h0M670.5 619.8h0M671.2 646.7h0M671.9 657.8h0M672.6 642.2h0M673.3 664h0M674 666.1h0M674.7 637h0M675.4 675.5h0M676.1 643.1h0M676.8 687.7h0M677.5 678.2h0M678.2 724.9h0M678.9 696.2h0M679.5 670.3h0M680.2 684h0M680.9 677.5h0M681.6 658.9h0M682.3 641.8h0M683 693.1h0M683.7 702h0M684.4 656h0M685.1 663.8h0M685.8 659.8h0M686.5 691.1h0M687.2 692.7h0M687.9 651h0M688.6 661.9h0M689.3 659.5h0M690 675.7h0M690.7 688.3h0M691.4 695.9h0M692.1 666.1h0M692.8 650.7h0M693.5 682h0M694.2 684.4h0M694.9 664.2h0M695.6 680.5h0M696.3 682.1h0M697 693.7h0M697.7 672.7h0M698.4 682.7h0M699.1 675.6h0M699.8 649.3h0M700.5 688.2h0M701.2 672.1h0M701.9 695.3h0M702.6 644.4h0M703.2 653.5h0M703.9 672.5h0M704.6 625.2h0M705.3 661.2h0M706 653.5h0M706.7 654.7h0M707.4 656.7h0M708.1 612.5h0M708.8 658.7h0M709.5 661h0M710.2 681.1h0M710.9 687.3h0M711.6 663h0M712.3 680.5h0M713 607.4h0M713.7 673h0M714.4 686.1h0M715.1 680.3h0M715.8 667.3h0M716.5 654.5h0M717.2 656h0M717.9 664.2h0M718.6 673h0M719.3 678.9h0M720 664.2h0M720.7 635.6h0M721.4 703.9h0M722.1 643.6h0M722.8 606.2h0M723.5 694.2h0M724.2 681.8h0M724.9 662.2h0M725.6 681.4h0M726.2 671.7h0M726.9 645.3h0M727.6 668.6h0M728.3 639.9h0M729 655h0M729.7 650.9h0M730.4 675.3h0M731.1 695.1h0M731.8 659.6h0M732.5 685.7h0M733.2 629.6h0M733.9 650.9h0M734.6 689h0M735.3 700.1h0M736 703.3h0M736.7 708.3h0M737.4 648.8h0M738.1 673.9h0M738.8 630.1h0M739.5 686h0M740.2 699.4h0M740.9 692.8h0M741.6 680.3h0M742.3 714.3h0M743 715.3h0M743.7 706.6h0M744.4 686.4h0M745.1 703h0M745.8 706.9h0M746.5 713.7h0M747.2 722.8h0M747.9 710.7h0M748.6 678.5h0M749.2 704.2h0M749.9 720.9h0M750.6 706.9h0M751.3 723h0M752 703.5h0M752.7 752.4h0M753.4 730.5h0M754.1 722.3h0M754.8 737.8h0M755.5 736.5h0M756.2 720.8h0M756.9 739.4h0M757.6 729.2h0M758.3 721.5h0M759 715.1h0M759.7 691.3h0M760.4 724.7h0M761.1 723.9h0M761.8 700.7h0M762.5 751.4h0M763.2 718.8h0M763.9 694.5h0M764.6 712.3h0M765.3 723.3h0M766 725h0M766.7 709.5h0M767.4 725.8h0M768.1 694.2h0M768.8 715.2h0M769.5 732.6h0M770.2 707.2h0M770.9 736.9h0M771.6 741.5h0M772.3 710.8h0M772.9 668h0M773.6 739.4h0M774.3 750.6h0M775 685.4h0M775.7 726.8h0M776.4 730h0M777.1 684.9h0M777.8 708.9h0M778.5 750.6h0M779.2 727.7h0M779.9 723.3h0M780.6 748.8h0M781.3 708.2h0M782 682.2h0M782.7 750.8h0M783.4 701h0M784.1 717.8h0M784.8 744.7h0M785.5 725.3h0M786.2 722.2h0M786.9 706.6h0M787.6 732.4h0M788.3 769.2h0M789 708.8h0M789.7 696h0M790.4 726.3h0M791.1 707h0M791.8 727.1h0M792.5 726.9h0M793.2 736.7h0M793.9 732.6h0M794.6 737.3h0M795.3 759.1h0M795.9 710.4h0M796.6 732.6h0M797.3 737.8h0M798 707.2h0M798.7 714.3h0M799.4 723.9h0M800.1 717.2h0M800.8 753.7h0M801.5 730.4h0M802.2 784.9h0M802.9 719.8h0M803.6 720.2h0M804.3 776.1h0M805 713.5h0M805.7 775.7h0M806.4 668.2h0M807.1 711.7h0M807.8 759.9h0M808.5 767.4h0M809.2 740.1h0M809.9 716.1h0M810.6 724.6h0M811.3 744.7h0M812 734.6h0M812.7 749.4h0M813.4 711.1h0M814.1 746h0M814.8 755.8h0M815.5 784.5h0M816.2 742.4h0M816.9 740.6h0M817.6 711h0M818.3 700.8h0M818.9 680.6h0M819.6 741.8h0M820.3 777.9h0M821 731.6h0M821.7 682.9h0M822.4 740.9h0M823.1 732.3h0M823.8 730.8h0M824.5 781.8h0M825.2 769.5h0M825.9 774.1h0M826.6 722.9h0M827.3 750.4h0M828 720.3h0M828.7 769.6h0M829.4 720h0M830.1 769.5h0M830.8 747.5h0M831.5 746.2h0M832.2 708.3h0M832.9 757.5h0M833.6 702.8h0M834.3 717.5h0M835 723.6h0M835.7 789.8h0M836.4 744h0M837.1 727.6h0M837.8 754.1h0M838.5 798.1h0M839.2 743.2h0M839.9 724.4h0M840.6 721.5h0M841.3 742.9h0M842 784.7h0M842.6 741h0M843.3 740.2h0M844 725.7h0M844.7 725.5h0M845.4 774.4h0M846.1 758.5h0M846.8 757.6h0M847.5 720.1h0M848.2 761.3h0M848.9 757.5h0M849.6 783.3h0M850.3 770.3h0M851 741.2h0M851.7 754h0M852.4 753.9h0M853.1 743.1h0M853.8 726.2h0M854.5 767h0M855.2 798.8h0M855.9 747.1h0M856.6 787.2h0M857.3 743.2h0M858 745.9h0M858.7 754.4h0M859.4 750.2h0M860.1 780.8h0M860.8 781.5h0M861.5 699.7h0M862.2 777.6h0M862.9 766.8h0M863.6 801.9h0M864.3 741.4h0M865 766.6h0M865.6 792.9h0M866.3 785.1h0M867 802.6h0M867.7 749.8h0M868.4 749.9h0M869.1 782.3h0M869.8 739.2h0M870.5 777.2h0M871.2 791.7h0M871.9 773.5h0M872.6 734.6h0M873.3 751h0M874 756.6h0M874.7 772.9h0M875.4 766.8h0M876.1 754.4h0M876.8 728.9h0M877.5 723.9h0M878.2 740.8h0M878.9 743.8h0M879.6 752.4h0M880.3 745.3h0M881 765.6h0M881.7 751.6h0M882.4 770.3h0M883.1 769.5h0M883.8 780.1h0M884.5 745.1h0M885.2 746.3h0M885.9 740.2h0M886.6 769.9h0M887.3 782.9h0M888 790.9h0M888.6 768.8h0M889.3 763.4h0M890 789.2h0M890.7 773.6h0M891.4 749.1h0M892.1 791.8h0M892.8 768h0M893.5 742.6h0M894.2 774.6h0M894.9 757.3h0M895.6 775.9h0M896.3 760.4h0M897 769.1h0M897.7 762.7h0M898.4 772.8h0M899.1 785.5h0M899.8 775.8h0M900.5 767.3h0M901.2 789.5h0M901.9 740h0M902.6 773.7h0M903.3 798h0M904 782h0M904.7 794.9h0M905.4 746.7h0M906.1 793.2h0M906.8 754.1h0M907.5 794.1h0M908.2 778.8h0M908.9 795.5h0M909.6 758.3h0M910.3 767.1h0M911 729.9h0M911.7 780.3h0M912.3 788.2h0M913 781.3h0M913.7 800.3h0M914.4 789.3h0M915.1 777.8h0M915.8 788.4h0M916.5 764.3h0M917.2 797.8h0M917.9 780.4h0M918.6 784.2h0M919.3 774.9h0M920 763.9h0M920.7 757.2h0M921.4 772.5h0M922.1 797.1h0M922.8 742.3h0M923.5 781.9h0M924.2 836.9h0M924.9 785.2h0M925.6 774h0M926.3 788h0M927 775.9h0M927.7 783.2h0M928.4 784.3h0M929.1 759.9h0M929.8 809.6h0M930.5 787h0M931.2 806.6h0M931.9 790.2h0M932.6 810.9h0M933.3 789.1h0M934 844.9h0M934.7 816.1h0M935.3 819.5h0M936 785h0M936.7 754.5h0M937.4 782.1h0M938.1 798.7h0M938.8 789.3h0M939.5 775.2h0M940.2 768.5h0M940.9 758.5h0M941.6 772.2h0M942.3 796.2h0M943 797h0M943.7 799.7h0M944.4 784.8h0M945.1 792.3h0M945.8 789.4h0M946.5 801.3h0M947.2 796.3h0M947.9 804.2h0M948.6 788.3h0M949.3 787.6h0M950 822.5h0M950.7 822.2h0M951.4 748.4h0M952.1 800.4h0M952.8 800.3h0M953.5 808.8h0M954.2 741.8h0M954.9 750.4h0M955.6 780.4h0M956.3 787.5h0M957 756.9h0M957.7 810.5h0M958.3 807.2h0M959 796.4h0M959.7 799.9h0M960.4 755.7h0M961.1 777.5h0M961.8 727.9h0M962.5 800h0M963.2 803.6h0M963.9 784.1h0M964.6 753.8h0M965.3 779.9h0M966 795.5h0M966.7 746.7h0M967.4 779.6h0M968.1 789.3h0M968.8 754.2h0M969.5 757.8h0M970.2 798.4h0M970.9 788.6h0M971.6 804.9h0M972.3 782.7h0M973 756.6h0M973.7 779.2h0M974.4 767.8h0M975.1 775h0M975.8 790.1h0M976.5 811.5h0M977.2 783.9h0M977.9 822.1h0M978.6 751.4h0M979.3 778.2h0M980 781.8h0M980.7 733.6h0M981.4 745.1h0M982 769.9h0M982.7 779.9h0M983.4 788h0M984.1 782.1h0M984.8 773.1h0M985.5 751.2h0M986.2 782.9h0M986.9 819.1h0M987.6 793.5h0M988.3 767.2h0M989 787.1h0M989.7 791.5h0M990.4 808.6h0M991.1 767.5h0M991.8 792.5h0M992.5 789.8h0M245 1038h0M245 993.6h0M246.6 984h0M247.3 976h0M249 956h0M249.8 948h0M249 941h0M521.7 784.5h0M519.4 795.7h0M523.2 797.2h0M520.9 811.9h0M523.8 813.3h0M520.9 817.7h0M525.3 822.1h0M526.7 823.6h0M525.9 839.8h0M526.7 845.7h0M518.5 850h0M520 856.5h0M528.2 741.3h0M518 753.7h0M519 676h0M524 690h0M527.5 712h0M654.6 741.3h0M657.5 744.3h0M661 740.7h0M658.4 775.1h0M656 784h0M655.4 787.5h0M660.4 792.2h0M657 808h0M658 815.7h0M659 825h0M656.5 660h0M660 690h0M374 649h0M258 846h0M335.5 914h0M497 644h0M482 657h0M582.6 613h0M593.4 615.9h0M609 620.9h0M665.7 623.8h0M705 626h0M726 625.9h0M728.6 635.5h0M689.2 752.2h0M727.4 755h0M706.6 732h0M497.3 644.4h0M383 835.7h0M396.5 827h0M420.8 820.4h0M429.8 819h0M439 809.8h0M339.9 789h0M315.5 798.8h0M953.5 713h0M929.5 724h0M912.5 828h0M913.5 831.5h0"/>
<path class="tr" d="M594.2 662 L594.4 729.3 L594.6 783.1 L595 847.1 L595.2 886.4 L595.5 911 L596.2 931.2 L596.7 948 L597.4 964.9 L598.1 974.9 L599 983.4 L600.1 990.1 L601.3 995.1 L602.3 997.8 L602.9 998.5 L603.5 997.8 L604.5 995.1 L605.7 990.1 L606.8 983.4 L607.7 974.9 L608.4 964.9 L609.1 948 L609.6 931.2 L610.3 911 L610.6 886.4 L610.8 847.1 L611.2 783.1 L611.4 729.3 L611.5 662"/>
<path class="tk" d="M187.2 631.8h17.2M1019.3 631.8h-17.2M187.2 741h17.2M1019.3 741h-17.2M187.2 850.2h17.2M1019.3 850.2h-17.2M187.2 959.4h17.2M1019.3 959.4h-17.2M307.9 577.4v17.2M307.9 1068.6v-17.2M478.5 577.4v17.2M478.5 1068.6v-17.2M649.1 577.4v17.2M649.1 1068.6v-17.2M819.6 577.4v17.2M819.6 1068.6v-17.2M990.2 577.4v17.2M990.2 1068.6v-17.2"/>
<rect class="sp" x="187.2" y="577.4" width="832.1" height="491.2"/>
<text class="n" x="170.3" y="645.4" text-anchor="end" textLength="120.3" lengthAdjust="spacingAndGlyphs">1.0005</text>
<text class="n" x="170.3" y="754.6" text-anchor="end" textLength="120.3" lengthAdjust="spacingAndGlyphs">1.0000</text>
<text class="n" x="170.3" y="863.8" text-anchor="end" textLength="120.3" lengthAdjust="spacingAndGlyphs">0.9995</text>
<text class="n" x="170.3" y="973" text-anchor="end" textLength="120.3" lengthAdjust="spacingAndGlyphs">0.9990</text>
<text class="n" x="170.3" y="1082.2" text-anchor="end" textLength="120.3" lengthAdjust="spacingAndGlyphs">0.9985</text>
<text class="n" x="307.7" y="1119.4" text-anchor="middle" textLength="66" lengthAdjust="spacingAndGlyphs">515</text>
<text class="n" x="478.3" y="1119.4" text-anchor="middle" textLength="66" lengthAdjust="spacingAndGlyphs">520</text>
<text class="n" x="648.9" y="1119.4" text-anchor="middle" textLength="66" lengthAdjust="spacingAndGlyphs">525</text>
<text class="n" x="819.4" y="1119.4" text-anchor="middle" textLength="66" lengthAdjust="spacingAndGlyphs">530</text>
<text class="n" x="990" y="1119.4" text-anchor="middle" textLength="66" lengthAdjust="spacingAndGlyphs">535</text>
<text class="yl" transform="translate(34.6 822.4) rotate(-90)" text-anchor="middle" textLength="243" lengthAdjust="spacingAndGlyphs">Relative flux</text>
<text class="t" x="537.3" y="862.6" textLength="22.6" lengthAdjust="spacingAndGlyphs">c</text>
<text class="t" x="674.2" y="862.6" textLength="23.6" lengthAdjust="spacingAndGlyphs">b</text>
<text class="t" y="959.9"><tspan x="618.5" textLength="13.6" lengthAdjust="spacingAndGlyphs">f</tspan> <tspan x="651.5" textLength="161.6" lengthAdjust="spacingAndGlyphs">(unseen)</tspan></text>
</g>
<g id="panel3">
<rect x="257.1" y="1153.4" width="7" height="490.4" fill="#b3c3f3"/>
<rect x="815.9" y="1153.4" width="7" height="490.4" fill="#b3c3f3"/>
<path class="dots" d="M213 1271.6h0M213.7 1242h0M214.4 1235.2h0M215.2 1184.9h0M215.9 1223.9h0M216.6 1222.3h0M217.3 1229.3h0M218.1 1214.7h0M218.8 1232.7h0M219.5 1221.5h0M220.2 1203.6h0M221 1256h0M221.7 1256h0M222.4 1272.8h0M223.1 1234.6h0M223.9 1229.1h0M224.6 1226.2h0M225.3 1207.2h0M226 1268.1h0M226.7 1220.2h0M227.5 1216.5h0M228.2 1242.2h0M228.9 1280.4h0M229.6 1247.9h0M230.4 1220.8h0M231.1 1231.3h0M231.8 1264.2h0M232.5 1244.1h0M233.3 1230.7h0M234 1239.7h0M234.7 1263.1h0M235.4 1296.7h0M236.2 1223.9h0M236.9 1234.1h0M237.6 1232h0M238.3 1193.8h0M239 1230h0M239.8 1229h0M240.5 1277.8h0M241.2 1251.1h0M241.9 1217.3h0M242.7 1275.4h0M243.4 1251.9h0M244.1 1218.6h0M244.8 1241.6h0M245.6 1243.1h0M246.3 1236.2h0M247 1262.7h0M247.7 1210.1h0M248.5 1259.2h0M249.2 1290.1h0M249.9 1286.4h0M250.6 1293.3h0M251.3 1292.8h0M252.1 1302.7h0M252.8 1241.5h0M253.5 1292.6h0M254.2 1231.4h0M255 1263.5h0M255.7 1233.1h0M256.4 1304.8h0M264.4 1297.8h0M265.1 1270h0M265.8 1315.8h0M266.5 1284.7h0M267.3 1290.4h0M268 1288.4h0M268.7 1276.9h0M269.4 1240.1h0M270.2 1306.5h0M270.9 1239.8h0M271.6 1276.3h0M272.3 1287.8h0M273.1 1255.4h0M273.8 1283h0M274.5 1309.3h0M275.2 1282.2h0M275.9 1260.2h0M276.7 1221.3h0M277.4 1261h0M278.1 1271.5h0M278.8 1271.3h0M279.6 1263.9h0M280.3 1295.7h0M281 1274.9h0M281.7 1283.4h0M282.5 1297h0M283.2 1258.3h0M283.9 1269.4h0M284.6 1326h0M285.4 1296h0M286.1 1244.8h0M286.8 1271.2h0M287.5 1286.3h0M288.2 1297.4h0M289 1268h0M289.7 1245.6h0M290.4 1237.1h0M291.1 1268.1h0M291.9 1257.8h0M292.6 1232.9h0M293.3 1238.6h0M294 1230.1h0M294.8 1251.9h0M295.5 1215.8h0M296.2 1241.8h0M296.9 1252.2h0M297.6 1243.9h0M298.4 1216.8h0M299.1 1270.8h0M299.8 1222h0M300.5 1249.4h0M301.3 1226.2h0M302 1205.4h0M302.7 1251.7h0M303.4 1256.1h0M304.2 1251.3h0M304.9 1261h0M305.6 1240.8h0M306.3 1240h0M307.1 1255.6h0M307.8 1304.3h0M308.5 1279.6h0M309.2 1250.7h0M309.9 1276.5h0M310.7 1253.9h0M311.4 1257.6h0M312.1 1291.5h0M312.8 1259.2h0M313.6 1230.8h0M314.3 1247.7h0M315 1272h0M315.7 1270h0M316.5 1297.1h0M317.2 1253.2h0M317.9 1285.2h0M318.6 1278.1h0M319.4 1262.2h0M320.1 1284.8h0M320.8 1278h0M321.5 1245.1h0M322.2 1290.9h0M323 1234.9h0M323.7 1263.8h0M324.4 1265.4h0M325.1 1275h0M325.9 1248.2h0M326.6 1265.5h0M327.3 1262.9h0M328 1290.7h0M328.8 1248.9h0M329.5 1265.7h0M330.2 1260h0M330.9 1237.2h0M331.7 1330.6h0M332.4 1269.5h0M333.1 1232.9h0M333.8 1299.4h0M334.5 1241.7h0M335.3 1276.9h0M336 1290.7h0M336.7 1258.1h0M337.4 1264.4h0M338.2 1261h0M338.9 1271.9h0M339.6 1238.4h0M340.3 1245.1h0M341.1 1271.5h0M341.8 1302.9h0M342.5 1292.5h0M343.2 1322.4h0M344 1297.6h0M344.7 1268.3h0M345.4 1279.3h0M346.1 1236.8h0M346.8 1264.3h0M347.6 1263.8h0M348.3 1290.5h0M349 1304.9h0M349.7 1276.5h0M350.5 1275.6h0M351.2 1255.2h0M351.9 1287.4h0M352.6 1298.9h0M353.4 1304.9h0M354.1 1276.5h0M354.8 1341.2h0M355.5 1322.7h0M356.3 1290.7h0M357 1281.6h0M357.7 1282.3h0M358.4 1295.4h0M359.1 1290.5h0M359.9 1303.9h0M360.6 1310.2h0M361.3 1321h0M362 1314h0M362.8 1282.3h0M363.5 1294.2h0M364.2 1276.8h0M364.9 1270.9h0M365.7 1331.5h0M366.4 1275.1h0M367.1 1329.7h0M367.8 1276.3h0M368.6 1292.5h0M369.3 1312.6h0M370 1288.5h0M370.7 1301.2h0M371.4 1289h0M372.2 1285.2h0M372.9 1292.5h0M373.6 1281.9h0M374.3 1334.4h0M375.1 1296.2h0M375.8 1344.9h0M376.5 1247.7h0M377.2 1305.2h0M378 1317.2h0M378.7 1298.5h0M379.4 1329.5h0M380.1 1318.4h0M380.9 1296.4h0M381.6 1313.6h0M382.3 1366.9h0M383 1311.7h0M383.7 1310.6h0M384.5 1288.8h0M385.2 1297.6h0M385.9 1263.9h0M386.6 1287.2h0M387.4 1344.4h0M388.1 1301.6h0M388.8 1279.3h0M389.5 1277h0M390.3 1284.8h0M391 1249.8h0M391.7 1285.2h0M392.4 1259.4h0M393.2 1240.6h0M393.9 1279.1h0M394.6 1185.7h0M395.3 1229.4h0M396 1248.9h0M396.8 1219.5h0M397.5 1238.3h0M398.2 1230.2h0M398.9 1230.4h0M399.7 1306.2h0M400.4 1257.7h0M401.1 1246.2h0M401.8 1279.6h0M402.6 1244.1h0M403.3 1270.1h0M404 1257.5h0M404.7 1287.5h0M405.5 1219.6h0M406.2 1269.2h0M406.9 1253.3h0M407.6 1226.4h0M408.3 1281.7h0M409.1 1236h0M409.8 1294.4h0M410.5 1266.1h0M411.2 1269.8h0M412 1257.3h0M412.7 1281.2h0M413.4 1221.9h0M414.1 1267.8h0M414.9 1254.6h0M415.6 1278h0M416.3 1268.9h0M417 1284.8h0M417.8 1251.5h0M418.5 1316.2h0M419.2 1331.9h0M419.9 1275.3h0M420 1298.7h0M420.7 1307h0M421.4 1287.9h0M422.2 1302h0M422.9 1311.1h0M423.6 1317.3h0M424.3 1280.1h0M425.1 1268.1h0M425.8 1265.2h0M426.5 1274.8h0M427.2 1285.9h0M428 1297.7h0M428.7 1266.3h0M429.4 1281.9h0M430.1 1254h0M430.9 1308h0M431.6 1271h0M432.3 1291.1h0M433 1267.1h0M433.7 1278h0M434.5 1266.8h0M435.2 1326.8h0M435.9 1291.9h0M436.6 1282h0M437.4 1261.2h0M438.1 1267.4h0M438.8 1298.2h0M439.5 1323.4h0M440.3 1248h0M441 1263.1h0M441.7 1281.5h0M442.4 1270.7h0M443.2 1249.3h0M443.9 1288.4h0M444.6 1310h0M445.3 1252.6h0M446 1299.6h0M446.8 1319.6h0M447.5 1320.3h0M448.2 1291.2h0M448.9 1353.4h0M449.7 1310.1h0M450.4 1275.7h0M451.1 1317.8h0M451.8 1268.9h0M452.6 1319.8h0M453.3 1270.3h0M454 1319.9h0M454.7 1285.7h0M455.5 1327.8h0M456.2 1317.7h0M456.9 1309h0M457.6 1303.7h0M458.3 1331.5h0M459.1 1264.1h0M459.8 1321.8h0M460.5 1318.3h0M461.2 1322h0M462 1324.5h0M462.7 1369.7h0M463.4 1308.1h0M464.1 1325.7h0M464.9 1310.6h0M465.6 1346.8h0M466.3 1260.4h0M467 1348.6h0M467.8 1291.6h0M468.5 1253.5h0M469.2 1283.7h0M469.9 1305.8h0M470.6 1318.2h0M471.4 1312.8h0M472.1 1335.1h0M472.8 1312.1h0M473.5 1313.9h0M474.3 1264.8h0M475 1327h0M475.7 1338.7h0M476.4 1300.4h0M477.2 1265.4h0M477.9 1275.6h0M478.6 1350.2h0M479.3 1289.1h0M480.1 1285.1h0M480.8 1281.1h0M481.5 1318.5h0M482.2 1283.6h0M482.9 1273.7h0M483.7 1257.7h0M484.4 1291.7h0M485.1 1321.8h0M485.8 1292.3h0M486.6 1318.7h0M487.3 1300.3h0M488 1303h0M488.7 1304.2h0M489.5 1298.9h0M490.2 1325.1h0M490.9 1311.7h0M491.6 1287.1h0M492.4 1300.9h0M493.1 1295.4h0M493.8 1307h0M494.5 1302.2h0M495.2 1308.9h0M496 1260.3h0M496.7 1305.3h0M497.4 1330h0M498.1 1266.7h0M498.9 1338h0M499.6 1306.7h0M500.3 1291.6h0M501 1258.9h0M501.8 1334.5h0M502.5 1286.9h0M503.2 1298.1h0M503.9 1322.7h0M504.6 1289.1h0M505.4 1290.9h0M506.1 1285.1h0M506.8 1308.4h0M507.5 1324.7h0M508.3 1323.4h0M509 1328.5h0M509.7 1308.4h0M510.4 1319h0M511.2 1299.9h0M511.9 1364.6h0M512.6 1321.6h0M513.3 1265.9h0M514.1 1287h0M514.8 1355.7h0M515.5 1285.6h0M516.2 1308.9h0M516.9 1331.5h0M517.7 1290.9h0M518.4 1346.5h0M519.1 1360h0M519.8 1300.9h0M520.6 1350.8h0M521.3 1303.8h0M522 1304.3h0M522.7 1338.1h0M523.5 1337.3h0M524.2 1318.6h0M524.9 1354.7h0M525.6 1296h0M526.4 1316.7h0M527.1 1309.7h0M527.8 1356.1h0M528.5 1360.4h0M529.2 1357.7h0M530 1310.2h0M530.7 1344.4h0M531.4 1350.7h0M532.1 1301.1h0M532.9 1322.3h0M533.6 1358.5h0M534.3 1366h0M535 1352.4h0M535.8 1360.8h0M536.5 1355h0M537.2 1349h0M537.9 1342.3h0M538.7 1324.2h0M539.4 1341.9h0M540.1 1340.1h0M540.8 1404.7h0M541.5 1351.1h0M542.3 1346h0M543 1335.8h0M543.7 1339.2h0M544.4 1335.9h0M545.2 1354.1h0M545.9 1338.4h0M546.6 1358.1h0M547.3 1321.2h0M548.1 1345.6h0M548.8 1356h0M549.5 1306.5h0M550.2 1340.3h0M551 1340.3h0M551.7 1327.7h0M552.4 1324.2h0M553.1 1288.9h0M553.8 1362.9h0M554.6 1313.5h0M555.3 1307.3h0M556 1353.5h0M556.7 1291.8h0M557.5 1358.9h0M558.2 1349.2h0M558.9 1353.4h0M559.6 1333.9h0M560.4 1307.8h0M561.1 1289.4h0M561.8 1374.4h0M562.5 1328.3h0M563.3 1327.9h0M564 1375.8h0M564.7 1321.6h0M565.4 1333.2h0M566.1 1336.4h0M566.9 1340.2h0M567.6 1321.5h0M568.3 1332.1h0M569 1377.4h0M569.8 1367h0M570.5 1285.7h0M571.2 1301h0M571.9 1356.8h0M572.7 1347.1h0M573.4 1342.4h0M574.1 1377.5h0M574.8 1306.6h0M575.6 1371.8h0M576.3 1342.6h0M577 1357.6h0M577.7 1350.6h0M578.4 1364.9h0M579.2 1335.2h0M579.9 1329.6h0M580.6 1361.3h0M581.3 1346.8h0M582.1 1310.3h0M582.8 1371h0M583.5 1367.9h0M584.2 1377.1h0M585 1347.4h0M585.7 1348.6h0M586.4 1328.3h0M587.1 1314.1h0M587.9 1340.7h0M588.6 1339.9h0M589.3 1318.6h0M590 1379.1h0M590.7 1296.1h0M591.5 1315.4h0M592.2 1319.7h0M592.9 1368.1h0M593.6 1330.2h0M594.4 1332.7h0M595.1 1322h0M595.8 1324.5h0M596.5 1311h0M597.3 1370.9h0M598 1362.6h0M598.7 1374h0M599.4 1335.3h0M600.2 1413.5h0M600.9 1330h0M601.6 1300.8h0M602.3 1342.6h0M603 1351.4h0M603.8 1367.5h0M604.5 1324.7h0M605.2 1365h0M605.9 1390.6h0M606.7 1329.2h0M607.4 1332h0M608.1 1308.2h0M608.8 1355.6h0M609.6 1370.3h0M610.3 1371.7h0M611 1373.2h0M611.7 1388.4h0M612.5 1355.5h0M613.2 1375.3h0M613.9 1329.2h0M614.6 1334.5h0M615.3 1357.8h0M616.1 1333.5h0M616.8 1366.6h0M617.5 1387.6h0M618.2 1365.1h0M619 1334.6h0M619.7 1335.5h0M620.4 1385.2h0M621.1 1333.9h0M621.9 1358.6h0M622.6 1353.4h0M623.3 1362.2h0M624 1387.2h0M624.8 1345.5h0M625.5 1328.4h0M626.2 1397.8h0M626.9 1370.8h0M627.6 1385.2h0M628.4 1367.1h0M629.1 1387.5h0M629.8 1399.7h0M630.5 1403.8h0M631.3 1360.7h0M632 1359.7h0M632.7 1380.9h0M633.4 1378.2h0M634.2 1384.5h0M634.9 1353.5h0M635.6 1315.1h0M636.3 1381.9h0M637.1 1392h0M637.8 1393.1h0M638.5 1419.2h0M639.2 1400.4h0M639.9 1367.5h0M640.7 1399.4h0M641.4 1371.2h0M642.1 1402.2h0M642.8 1377.9h0M643.6 1384h0M644.3 1374.4h0M645 1373.5h0M645.7 1332.6h0M646.5 1369.6h0M647.2 1312h0M647.9 1374.1h0M648.6 1387.8h0M649.3 1411.3h0M650.1 1370.9h0M650.8 1345.2h0M651.5 1326.1h0M652.2 1412.2h0M653 1329.7h0M683 1334.1h0M683.7 1342h0M684.4 1325.4h0M685.2 1373.2h0M685.9 1328h0M686.6 1330.5h0M687.3 1324.3h0M688.1 1356.2h0M688.8 1330h0M689.5 1321.6h0M690.2 1366h0M691 1354.8h0M691.7 1348.4h0M692.4 1304.7h0M693.1 1310.5h0M693.9 1325.1h0M694.6 1325.9h0M695.3 1323.9h0M696 1326.5h0M696.7 1343.5h0M697.5 1312.4h0M698.2 1337h0M698.9 1322.7h0M699.6 1325.8h0M700.4 1330.8h0M701.1 1349.9h0M701.8 1341.5h0M702.5 1321.9h0M703.3 1345.4h0M704 1342.4h0M704.7 1346.5h0M705.4 1332.9h0M706.2 1358.5h0M706.9 1349.7h0M707.6 1320.1h0M708.3 1313.8h0M709 1310.2h0M709.8 1345.4h0M710.5 1323h0M711.2 1327.6h0M711.9 1332h0M712.7 1356.4h0M713.4 1378.2h0M714.1 1332.3h0M714.8 1369.5h0M715.6 1337.7h0M716.3 1351.5h0M717 1321.6h0M717.7 1303.1h0M718.5 1339.3h0M719.2 1354h0M719.9 1299.3h0M720.6 1328.3h0M721.3 1333.6h0M722.1 1339.2h0M722.8 1306.9h0M723.5 1318.8h0M724.2 1348.5h0M725 1365.1h0M725.7 1333.9h0M726.4 1351.2h0M727.1 1330.9h0M727.9 1337.6h0M728.6 1322.2h0M729.3 1323.5h0M730 1315.6h0M730.8 1330.1h0M731.5 1349.7h0M732.2 1331h0M732.9 1340.1h0M733.6 1312.9h0M734.4 1336.9h0M735.1 1269.5h0M735.8 1293.3h0M736.5 1313.4h0M737.3 1284.4h0M738 1331.4h0M738.7 1325.7h0M739.4 1302.6h0M740.2 1321.3h0M740.9 1289.5h0M741.6 1299.9h0M742.3 1310.6h0M743.1 1290h0M743.8 1341.1h0M744.5 1309.4h0M745.2 1342h0M745.9 1319.4h0M746.7 1327.5h0M747.4 1302.9h0M748.1 1314.3h0M748.8 1313.6h0M749.6 1324.7h0M750.3 1348.1h0M751 1311.2h0M751.7 1315.1h0M752.5 1327.6h0M753.2 1335h0M753.9 1316.9h0M754.6 1310.2h0M755.3 1307.2h0M756.1 1317.9h0M756.8 1321.3h0M757.5 1303.9h0M758.2 1314.6h0M759 1333.1h0M759.7 1317.3h0M760.4 1308.6h0M761.1 1331.3h0M761.9 1331.1h0M762.6 1329.1h0M763.3 1329.3h0M764 1308.5h0M764.8 1322h0M765.5 1326.1h0M766.2 1319.5h0M766.9 1282.7h0M767.6 1316h0M768.4 1321.5h0M769.1 1327.1h0M769.8 1311.6h0M770.5 1319.6h0M771.3 1281.1h0M772 1287.5h0M772.7 1265.2h0M773.4 1305.8h0M774.2 1340.5h0M774.9 1344.7h0M775.6 1288.6h0M776.3 1325.1h0M777.1 1336.9h0M777.8 1303.5h0M778.5 1271.6h0M779.2 1336h0M779.9 1302.6h0M780.7 1304.7h0M781.4 1344.2h0M782.1 1324.4h0M782.8 1332.7h0M783.6 1344.9h0M784.3 1308.6h0M785 1291.5h0M785.7 1325.9h0M786.5 1310.1h0M787.2 1323.5h0M787.9 1316.2h0M788.6 1294.4h0M789.4 1306.6h0M790.1 1299.2h0M790.8 1299.5h0M791.5 1304.7h0M792.2 1312.9h0M793 1309h0M793.7 1281.1h0M794.4 1320.5h0M795.1 1281.4h0M795.9 1353.2h0M796.6 1295.4h0M797.3 1310.6h0M798 1338.8h0M798.8 1311.8h0M799.5 1292h0M800.2 1289.9h0M800.9 1325.2h0M801.7 1330.3h0M802.4 1338.7h0M803.1 1325.4h0M803.8 1310.7h0M804.5 1331.9h0M805.3 1351.9h0M806 1306.8h0M806.7 1370.9h0M807.4 1311.2h0M808.2 1344.6h0M808.9 1356.6h0M809.6 1338.2h0M810.3 1325.3h0M811.1 1331.6h0M811.8 1346.1h0M812.5 1268.6h0M813.2 1329.1h0M814 1313.6h0M823.7 1313.3h0M824.4 1306.7h0M825.1 1341.7h0M825.9 1313.7h0M826.6 1319.8h0M827.3 1329.3h0M828 1343.2h0M828.7 1324.7h0M829.5 1324h0M830.2 1325.2h0M830.9 1337.7h0M831.6 1324.4h0M832.4 1336.2h0M833.1 1356.3h0M833.8 1331.9h0M834.5 1332.4h0M835.3 1324.2h0M836 1331h0M836.7 1323.4h0M837.4 1327.8h0M838.2 1336.4h0M838.9 1353.7h0M839.6 1355.6h0M840.3 1341.5h0M841 1355.1h0M841.8 1328.8h0M842.5 1381.2h0M843.2 1385.4h0M843.9 1343.9h0M844.7 1354.4h0M845.4 1349.1h0M846.1 1361.4h0M846.8 1341.3h0M847.6 1324.9h0M848.3 1361.5h0M849 1331.3h0M849.7 1354.2h0M850.5 1334.4h0M851.2 1338.3h0M851.9 1369.2h0M852.6 1379.8h0M853.3 1348.7h0M854.1 1344.5h0M854.8 1355.5h0M855.5 1340.9h0M856.2 1321.9h0M857 1350.2h0M857.7 1315.3h0M858.4 1357.7h0M859.1 1343.5h0M859.9 1353.8h0M860.6 1327.2h0M861.3 1339.1h0M862 1361.1h0M862.8 1372.9h0M863.5 1363.5h0M864.2 1356.9h0M864.9 1334.4h0M865.6 1363h0M866.4 1356.5h0M867.1 1350h0M867.8 1375.1h0M868.5 1344.3h0M869.3 1385.7h0M870 1348.8h0M870.7 1349.1h0M871.4 1360.4h0M872.2 1341.8h0M872.9 1355h0M873.6 1363.6h0M874.3 1333.6h0M875.1 1346.1h0M875.8 1337.7h0M876.5 1354.9h0M877.2 1380.5h0M877.9 1354.4h0M878.7 1358.1h0M879.4 1366.1h0M880.1 1344.9h0M880.8 1365.1h0M881.6 1357h0M882.3 1356.9h0M883 1343h0M883.7 1362.4h0M884.5 1388.2h0M885.2 1390.9h0M885.9 1366.8h0M886.6 1372.1h0M887.3 1364.2h0M888.1 1353.8h0M888.8 1344.9h0M889.5 1403.9h0M890.2 1358.8h0M891 1375.9h0M891.7 1398.4h0M892.4 1367.9h0M893.1 1373.2h0M893.9 1380.4h0M894.6 1369.2h0M895.3 1382.6h0M896 1374.7h0M896.8 1399.1h0M897.5 1386.9h0M898.2 1359.9h0M898.9 1359.6h0M899.6 1371.8h0M900.4 1370h0M901.1 1367h0M901.8 1391.9h0M902.5 1366.6h0M903.3 1372.4h0M904 1378.4h0M904.7 1345.4h0M905.4 1384.1h0M906.2 1388h0M906.9 1399h0M907.6 1359.4h0M908.3 1368.9h0M909.1 1379h0M909.8 1369.6h0M910.5 1353.1h0M911.2 1387.8h0M911.9 1368.7h0M912.7 1381.1h0M913.4 1357.2h0M914.1 1389.6h0M914.8 1367.3h0M915.6 1362.8h0M916.3 1386.3h0M917 1389.1h0M917.7 1356.1h0M918.5 1386.6h0M919.2 1396.3h0M919.9 1375.3h0M920.6 1347.8h0M921.4 1377.8h0M922.1 1385h0M922.8 1349h0M923.5 1389.2h0M924.2 1357.8h0M925 1360.3h0M925.7 1380.4h0M926.4 1366.2h0M927.1 1382.6h0M927.9 1361.7h0M928.6 1367.5h0M929.3 1361h0M930 1364.3h0M930.8 1369.7h0M931.5 1367.5h0M932.2 1355.9h0M932.9 1375.6h0M933.7 1357.1h0M934.4 1377.8h0M935.1 1367.8h0M935.8 1358.6h0M936.5 1348.6h0M937.3 1362.3h0M938 1382.4h0M938.7 1362h0M939.4 1372.6h0M940.2 1355.8h0M940.9 1350.2h0M941.6 1344.6h0M942.3 1322.7h0M943.1 1357.8h0M943.8 1354.8h0M944.5 1351h0M945.2 1363.3h0M946 1333.6h0M946.7 1377.3h0M947.4 1327.6h0M948.1 1356.6h0M948.8 1334.3h0M949.6 1352.7h0M950.3 1375.4h0M951 1334.4h0M951.7 1360.5h0M952.5 1357.4h0M953.2 1358.5h0M953.9 1359.5h0M954.6 1370.4h0M955.4 1366.5h0M956.1 1366.3h0M956.8 1372.1h0M957.5 1368.3h0M958.3 1355.5h0M959 1338.3h0M959.7 1371h0M960.4 1353.4h0M961.1 1386.3h0M961.9 1351.4h0M962.6 1341.7h0M963.3 1378.1h0M964 1347.6h0M964.8 1333.9h0M965.5 1378.3h0M966.2 1336.2h0M966.9 1378.6h0M967.7 1342.4h0M968.4 1364.1h0M969.1 1361.6h0M969.8 1328.2h0M970.6 1356.6h0M971.3 1349.5h0M972 1356.2h0M972.7 1363.3h0M973.4 1379.9h0M974.2 1350.8h0M974.9 1353.8h0M975.6 1390.3h0M976.3 1367h0M977.1 1369h0M977.8 1334h0M978.5 1336.8h0M979.2 1352h0M980 1358.3h0M980.7 1369.4h0M981.4 1403h0M982.1 1342h0M982.9 1355.7h0M983.6 1371.7h0M984.3 1365.3h0M985 1376.8h0M985.7 1353.5h0M986.5 1340.1h0M987.2 1387.8h0M987.9 1359.2h0M988.6 1333h0M989.4 1348.2h0M990.1 1350.6h0M990.8 1326.3h0M991.5 1362.2h0M992.3 1353h0M993 1345.7h0M259 1321.6h0M262 1329h0M257.6 1335.7h0M262 1333.4h0M259 1342.8h0M258.2 1351.6h0M260.5 1373.3h0M258 1255h0M262.5 1290h0M260 1300h0M815.7 1385h0M821.7 1380.7h0M816 1407h0M821 1404h0M817 1421.5h0M821 1421h0M818.4 1424.8h0M819.3 1436.6h0M819.8 1444h0M818 1464.7h0M816 1310h0M821 1340h0M818 1325h0M789 1174.6h0M800.5 1200h0M799.7 1237h0M789.5 1247.5h0M798.6 1250.8h0M790 1265h0M788 1270.6h0M791 1273.4h0M804 1279h0M801 1279h0M219 1194.8h0M281.5 1197.5h0M388.5 1196h0M501.7 1223h0M517 1261.7h0M605 1280h0M641 1299h0M684.5 1369.6h0M717.7 1398.6h0M744.8 1383h0M750.6 1376h0M634.6 1424h0M633.7 1416h0M623.7 1406.6h0M608 1411h0M561 1402h0M543.5 1405h0M542 1398h0M935.4 1569.3h0M939.6 1280h0M964 1307.8h0M903 1323h0M879.5 1410h0M914 1407.7h0M953 1402h0M348.5 1340h0M235.5 1321.5h0M317 1322h0"/>
<path class="tr" d="M594 1345.5 L594.1 1395.8 L594.4 1436 L594.8 1483.8 L595 1513.3 L595.3 1531.6 L596 1546.7 L596.5 1559.3 L597.2 1571.8 L598 1579.4 L599 1585.7 L600.1 1590.7 L601.4 1594.5 L602.4 1596.5 L603 1597 L603.6 1596.5 L604.6 1594.5 L605.9 1590.7 L607 1585.7 L608 1579.4 L608.8 1571.8 L609.5 1559.3 L610 1546.7 L610.7 1531.6 L611 1513.3 L611.2 1483.8 L611.6 1436 L611.9 1395.8 L612 1345.5"/>
<path class="tk" d="M187.2 1183.9h17.2M1019.3 1183.9h-17.2M187.2 1264.7h17.2M1019.3 1264.7h-17.2M187.2 1345.5h17.2M1019.3 1345.5h-17.2M187.2 1426.3h17.2M1019.3 1426.3h-17.2M187.2 1507.1h17.2M1019.3 1507.1h-17.2M187.2 1587.9h17.2M1019.3 1587.9h-17.2M358.3 1153.4v17.2M358.3 1643.8v-17.2M535.4 1153.4v17.2M535.4 1643.8v-17.2M712.5 1153.4v17.2M712.5 1643.8v-17.2M889.6 1153.4v17.2M889.6 1643.8v-17.2"/>
<rect class="sp" x="187.2" y="1153.4" width="832.1" height="490.4"/>
<text class="n" x="170.3" y="1197.5" text-anchor="end" textLength="120.3" lengthAdjust="spacingAndGlyphs">1.0010</text>
<text class="n" x="170.3" y="1278.3" text-anchor="end" textLength="120.3" lengthAdjust="spacingAndGlyphs">1.0005</text>
<text class="n" x="170.3" y="1359.1" text-anchor="end" textLength="120.3" lengthAdjust="spacingAndGlyphs">1.0000</text>
<text class="n" x="170.3" y="1439.9" text-anchor="end" textLength="120.3" lengthAdjust="spacingAndGlyphs">0.9995</text>
<text class="n" x="170.3" y="1520.7" text-anchor="end" textLength="120.3" lengthAdjust="spacingAndGlyphs">0.9990</text>
<text class="n" x="170.3" y="1601.5" text-anchor="end" textLength="120.3" lengthAdjust="spacingAndGlyphs">0.9985</text>
<text class="n" x="358.1" y="1694.6" text-anchor="middle" textLength="66" lengthAdjust="spacingAndGlyphs">875</text>
<text class="n" x="535.2" y="1694.6" text-anchor="middle" textLength="66" lengthAdjust="spacingAndGlyphs">880</text>
<text class="n" x="712.3" y="1694.6" text-anchor="middle" textLength="66" lengthAdjust="spacingAndGlyphs">885</text>
<text class="n" x="889.4" y="1694.6" text-anchor="middle" textLength="66" lengthAdjust="spacingAndGlyphs">890</text>
<text class="yl" transform="translate(34.6 1398) rotate(-90)" text-anchor="middle" textLength="243" lengthAdjust="spacingAndGlyphs">Relative flux</text>
<text class="t" x="272.4" y="1502.5" textLength="23.9" lengthAdjust="spacingAndGlyphs">b</text>
<text class="t" y="1502.5"><tspan x="619" textLength="13.4" lengthAdjust="spacingAndGlyphs">f</tspan> <tspan x="651.6" textLength="159.9" lengthAdjust="spacingAndGlyphs">(unseen)</tspan></text>
<text class="t" x="833.4" y="1502.5" textLength="23.9" lengthAdjust="spacingAndGlyphs">b</text>
</g>
<g id="panel4">
<rect x="421.5" y="1728" width="7" height="491.2" fill="#b3c3f3"/>
<rect x="967.4" y="1728" width="7" height="491.2" fill="#b3c3f3"/>
<path class="dots" d="M212 1844.2h0M212.7 1840.9h0M213.4 1874.4h0M214.1 1809.8h0M214.8 1865.1h0M215.5 1792.3h0M216.2 1834h0M217 1833.3h0M217.7 1873h0M218.4 1842.1h0M219.1 1823.4h0M219.8 1880.9h0M220.5 1884.4h0M221.2 1819.2h0M221.9 1855.6h0M222.6 1821.4h0M223.3 1841h0M224 1846.3h0M224.7 1804.5h0M225.5 1847.9h0M226.2 1815.8h0M226.9 1814.8h0M227.6 1833.9h0M228.3 1788.8h0M229 1806.8h0M229.7 1854.6h0M230.4 1864.3h0M231.1 1872.8h0M231.8 1837.1h0M232.5 1869.3h0M233.2 1895.1h0M233.9 1886.3h0M234.7 1814.2h0M235.4 1807.5h0M236.1 1865.9h0M236.8 1889.1h0M237.5 1847.2h0M238.2 1874.8h0M238.9 1858.2h0M239.6 1857.4h0M240.3 1859.8h0M241 1860.8h0M241.7 1842.6h0M242.4 1904.2h0M243.2 1876.8h0M243.9 1833h0M244.6 1844.4h0M245.3 1822.9h0M246 1868.2h0M246.7 1813h0M247.4 1842.2h0M248.1 1873h0M248.8 1866.1h0M249.5 1865.3h0M250.2 1816.2h0M250.9 1869.7h0M251.6 1846.3h0M252.4 1889.1h0M253.1 1839.8h0M253.8 1896.8h0M254.5 1859.6h0M255.2 1870.2h0M255.9 1840.2h0M256.6 1838.3h0M257.3 1837.4h0M258 1875.7h0M258.7 1829.8h0M259.4 1843h0M260.1 1880h0M260.9 1859.1h0M261.6 1838.2h0M262.3 1855.3h0M263 1808.4h0M263.7 1806.9h0M264.4 1860.8h0M265.1 1922.5h0M265.8 1905.7h0M266.5 1922.1h0M267.2 1869.2h0M267.9 1837.2h0M268.6 1879.8h0M269.3 1815.9h0M270.1 1776.2h0M270.8 1861.9h0M271.5 1881.2h0M272.2 1874h0M272.9 1900.1h0M273.6 1879.2h0M274.3 1868.4h0M275 1825.3h0M275.7 1851.1h0M276.4 1820.7h0M277.1 1841.4h0M277.8 1903.6h0M278.6 1852.1h0M279.3 1857h0M280 1824.7h0M280.7 1916.1h0M281.4 1784h0M282.1 1811.5h0M282.8 1863.2h0M283.5 1814.2h0M284.2 1814.8h0M284.9 1850.4h0M285.6 1860.2h0M286.3 1861.9h0M287 1819.2h0M287.8 1863.3h0M288.5 1805.6h0M289.2 1815h0M289.9 1813.8h0M290.6 1851.7h0M291.3 1831.6h0M292 1815.9h0M292.7 1842.5h0M293.4 1813.9h0M294.1 1827.7h0M294.8 1834.7h0M295.5 1826.3h0M296.3 1815.3h0M297 1808.8h0M297.7 1873.3h0M298.4 1776.5h0M299.1 1845.2h0M299.8 1814.2h0M300.5 1817h0M301.2 1788h0M301.9 1837h0M302.6 1821h0M303.3 1863.2h0M304 1816.9h0M304.7 1801.4h0M305.5 1795.7h0M306.2 1856.6h0M306.9 1850.2h0M307.6 1826.8h0M308.3 1884.3h0M309 1844.9h0M309.7 1826.3h0M310.4 1847h0M311.1 1800.1h0M311.8 1836.8h0M312.5 1801.4h0M313.2 1849.6h0M314 1854.4h0M314.7 1838.6h0M315.4 1875h0M316.1 1818.5h0M316.8 1851.6h0M317.5 1832.4h0M318.2 1803.2h0M318.9 1858.6h0M319.6 1889.5h0M320.3 1916.2h0M321 1841.5h0M321.7 1850.8h0M322.4 1881.5h0M323.2 1801.6h0M323.9 1872.7h0M324.6 1784h0M325.3 1800.6h0M326 1827.3h0M326.7 1823.1h0M327.4 1858.3h0M328.1 1799.7h0M328.8 1826.6h0M329.5 1823.3h0M330.2 1840h0M330.9 1855h0M331.7 1864.5h0M332.4 1844.8h0M333.1 1846.5h0M333.8 1837h0M334.5 1789.8h0M335.2 1782.6h0M335.9 1845.6h0M336.6 1795.4h0M337.3 1809.4h0M338 1839h0M338.7 1822.9h0M339.4 1810.6h0M340.1 1800.1h0M340.9 1831.5h0M341.6 1873h0M342.3 1781h0M343 1824.7h0M343.7 1861h0M344.4 1843.5h0M345.1 1820.8h0M345.8 1840.9h0M346.5 1851.1h0M347.2 1867.3h0M347.9 1795.7h0M348.6 1821.7h0M349.4 1850.6h0M350.1 1855.9h0M350.8 1852.9h0M351.5 1855.1h0M352.2 1867.1h0M352.9 1857.1h0M353.6 1915.1h0M354.3 1823.9h0M355 1834.2h0M355.7 1805.1h0M356.4 1862h0M357.1 1852h0M357.8 1839.9h0M358.6 1811.8h0M359.3 1893.5h0M360 1848.4h0M360.7 1858.1h0M361.4 1792.4h0M362.1 1842.4h0M362.8 1843.1h0M363.5 1877.9h0M364.2 1844.6h0M364.9 1859.9h0M365.6 1785.7h0M366.3 1827.1h0M367.1 1835.6h0M367.8 1839.8h0M368.5 1833.3h0M369.2 1830.9h0M369.9 1878.4h0M370.6 1827.1h0M371.3 1863.7h0M372 1862.2h0M372.7 1833.2h0M373.4 1842.5h0M374.1 1768.3h0M374.8 1819.1h0M375.5 1866.1h0M376.3 1814.7h0M377 1775.3h0M377.7 1863.6h0M378.4 1799.8h0M379.1 1876.4h0M379.8 1834.8h0M380.5 1800.9h0M381.2 1815.6h0M381.9 1883.8h0M382.6 1841h0M383.3 1833.6h0M384 1843.4h0M384.8 1833.6h0M385.5 1819.4h0M386.2 1858h0M386.9 1881.1h0M387.6 1838.8h0M388.3 1880.3h0M389 1864.8h0M389.7 1788.7h0M390.4 1850.3h0M391.1 1874.4h0M391.8 1778.2h0M392.5 1819.1h0M393.2 1846.3h0M394 1809.5h0M394.7 1836.4h0M395.4 1825.7h0M396.1 1807.6h0M396.8 1832.8h0M397.5 1824.3h0M398.2 1833.6h0M398.9 1835.8h0M399.6 1816.7h0M400.3 1809.4h0M401 1809.6h0M401.7 1840.8h0M402.5 1796.9h0M403.2 1861.1h0M403.9 1798.1h0M404.6 1877.1h0M405.3 1817.3h0M406 1813.1h0M406.7 1814h0M407.4 1841.3h0M408.1 1830.3h0M408.8 1802.3h0M409.5 1836.7h0M410.2 1846.8h0M410.9 1837.6h0M411.7 1869.2h0M412.4 1758.7h0M413.1 1823.6h0M413.8 1807.8h0M414.5 1834.1h0M415.2 1877.3h0M415.9 1781.1h0M416.6 1797.5h0M417.3 1814.8h0M432.2 1824.7h0M432.9 1870.3h0M433.6 1845.3h0M434.3 1814.2h0M435 1867.2h0M435.7 1841.5h0M436.4 1894.3h0M437.1 1844.3h0M437.9 1894.2h0M438.6 1916.5h0M439.3 1866.7h0M440 1866.1h0M440.7 1845h0M441.4 1861.4h0M442.1 1881.2h0M442.8 1916.9h0M443.5 1890.7h0M444.2 1833.4h0M444.9 1891.5h0M445.6 1832.7h0M446.3 1905.8h0M447.1 1889.1h0M447.8 1869.4h0M448.5 1820.8h0M449.2 1872.2h0M449.9 1832.9h0M450.6 1832.6h0M451.3 1850.1h0M452 1804.2h0M452.7 1852.2h0M453.4 1863.1h0M454.1 1882.4h0M454.8 1839.3h0M455.6 1844.6h0M456.3 1895.5h0M457 1892.6h0M457.7 1806.1h0M458.4 1872.6h0M459.1 1884.3h0M459.8 1840.2h0M460.5 1891.4h0M461.2 1858.1h0M461.9 1853.7h0M462.6 1825.5h0M463.3 1899h0M464 1832.2h0M464.8 1786.3h0M465.5 1817.7h0M466.2 1843.1h0M466.9 1821.7h0M467.6 1897h0M468.3 1821.2h0M469 1830.9h0M469.7 1846.8h0M470.4 1863.4h0M471.1 1804.3h0M471.8 1789.6h0M472.5 1812.7h0M473.3 1858h0M474 1832.7h0M474.7 1856h0M475.4 1822.3h0M476.1 1874.7h0M476.8 1859.1h0M477.5 1858.4h0M478.2 1870.8h0M478.9 1869.2h0M479.6 1866.5h0M480.3 1820.6h0M481 1873.6h0M481.7 1865.1h0M482.5 1883.9h0M483.2 1880h0M483.9 1855.8h0M484.6 1882.2h0M485.3 1911.7h0M486 1880.9h0M486.7 1863.8h0M487.4 1863h0M488.1 1893.4h0M488.8 1843.6h0M489.5 1859.6h0M490.2 1848.9h0M491 1817.2h0M491.7 1878.7h0M492.4 1887.1h0M493.1 1849h0M493.8 1851.5h0M494.5 1876.4h0M495.2 1910h0M495.9 1857.8h0M496.6 1915h0M497.3 1900.3h0M498 1808h0M498.7 1853.1h0M499.4 1868.1h0M500.2 1847.8h0M500.9 1881.7h0M501.6 1864.9h0M502.3 1872.1h0M503 1848.6h0M503.7 1806h0M504.4 1863.6h0M505.1 1821.2h0M505.8 1875.7h0M506.5 1861.4h0M507.2 1929.2h0M507.9 1865.7h0M508.7 1800.9h0M509.4 1917.7h0M510.1 1865.4h0M510.8 1880h0M511.5 1882h0M512.2 1813.2h0M512.9 1813.5h0M513.6 1865.2h0M514.3 1812.5h0M515 1790.1h0M515.7 1823.7h0M516.4 1841.8h0M517.1 1866.7h0M517.9 1838.1h0M518.6 1835.9h0M519.3 1870.2h0M520 1866.8h0M520.7 1887.2h0M521.4 1829.5h0M522.1 1923.8h0M522.8 1829.6h0M523.5 1893.3h0M524.2 1888.5h0M524.9 1836.6h0M525.6 1855.6h0M526.4 1842.1h0M527.1 1874.3h0M527.8 1884.3h0M528.5 1854.9h0M529.2 1862.6h0M529.9 1838.2h0M530.6 1880.6h0M531.3 1879.4h0M532 1851.5h0M532.7 1830.7h0M533.4 1885.6h0M534.1 1832.6h0M534.8 1845.1h0M535.6 1838h0M536.3 1864.7h0M537 1858h0M537.7 1819.6h0M538.4 1840.3h0M539.1 1831h0M539.8 1873h0M540.5 1916.7h0M541.2 1898.2h0M541.9 1903.3h0M542.6 1898.2h0M543.3 1838.3h0M544.1 1842.5h0M544.8 1821h0M545.5 1881.9h0M546.2 1860.7h0M546.9 1826.6h0M547.6 1870.9h0M548.3 1858.7h0M549 1885.1h0M549.7 1850.3h0M550.4 1838.1h0M551.1 1852.8h0M551.8 1850.7h0M552.5 1876h0M553.3 1842.9h0M554 1839.1h0M554.7 1854.8h0M555.4 1816.8h0M556.1 1838.1h0M556.8 1869.9h0M557.5 1823h0M558.2 1878.4h0M558.9 1831.4h0M559.6 1844.4h0M560.3 1863.6h0M561 1852h0M561.8 1809.5h0M562.5 1798.1h0M563.2 1847h0M563.9 1813.5h0M564.6 1830.5h0M565.3 1859.1h0M566 1834.2h0M566.7 1823h0M567.4 1808.8h0M568.1 1842.4h0M568.8 1905.8h0M569.5 1812.9h0M570.2 1798.5h0M571 1829.2h0M571.7 1880.2h0M572.4 1838.9h0M573.1 1845.2h0M573.8 1844.6h0M574.5 1851.9h0M575.2 1822.3h0M575.9 1810.2h0M576.6 1846.3h0M577.3 1902h0M578 1805.2h0M578.7 1848.1h0M579.5 1847.6h0M580.2 1841.2h0M580.9 1857h0M581.6 1831h0M582.3 1872.1h0M583 1826.8h0M583.7 1808h0M584.4 1841.3h0M585.1 1864.7h0M585.8 1921h0M586.5 1837.6h0M587.2 1886.9h0M587.9 1795.6h0M588.7 1867h0M589.4 1882.4h0M590.1 1838.4h0M590.8 1867.1h0M591.5 1834.3h0M592.2 1828.9h0M592.9 1841.2h0M593.6 1862.4h0M594.3 1789.5h0M595 1883.8h0M595.7 1837.7h0M596.4 1829.4h0M597.2 1875.8h0M597.9 1847.3h0M598.6 1915.1h0M599.3 1809.8h0M600 1835.8h0M600.7 1828.2h0M601.4 1877.9h0M602.1 1820.3h0M602.8 1800.7h0M603.5 1768.5h0M604.2 1794.9h0M604.9 1840.3h0M605.6 1818.5h0M606.4 1876.6h0M607.1 1798.7h0M607.8 1842.8h0M608.5 1803.1h0M609.2 1839.3h0M609.9 1825.1h0M610.6 1831.3h0M611.3 1791.7h0M612 1870.6h0M612.7 1829.4h0M613.4 1831.7h0M614.1 1825.5h0M614.9 1826.7h0M615.6 1876.1h0M616.3 1866.8h0M617 1843.1h0M617.7 1806.8h0M618.4 1843h0M619.1 1826.3h0M619.8 1772.5h0M620.5 1822h0M621.2 1843.1h0M621.9 1820.7h0M622.6 1836.6h0M623.3 1875.7h0M624.1 1881.2h0M624.8 1800.3h0M625.5 1862.3h0M626.2 1858h0M626.9 1857.9h0M627.6 1832.4h0M628.3 1851.9h0M629 1780.8h0M629.7 1832h0M630.4 1859.6h0M631.1 1800.9h0M631.8 1822.2h0M632.6 1811.4h0M633.3 1834.6h0M634 1863h0M634.7 1818.6h0M635.4 1893.1h0M636.1 1821.4h0M636.8 1865.8h0M637.5 1860.9h0M638.2 1812.4h0M638.9 1822.6h0M639.6 1852.2h0M640.3 1821.2h0M641 1811.6h0M641.8 1846.3h0M642.5 1811.6h0M643.2 1851.2h0M643.9 1843.2h0M644.6 1869.2h0M645.3 1882.5h0M646 1803.3h0M646.7 1844.4h0M647.4 1877.6h0M648.1 1930.8h0M648.8 1856.6h0M649.5 1862.6h0M650.3 1843h0M651 1931.4h0M651.7 1850.4h0M652.4 1877.5h0M653.1 1891.5h0M653.8 1830.9h0M654.5 1823.7h0M655.2 1829.9h0M655.9 1863h0M656.6 1883.6h0M657.3 1841.7h0M658 1921.3h0M658.7 1848.2h0M659.5 1880.1h0M660 1858.7h0M660.7 1883.3h0M661.4 1915h0M662.1 1863.5h0M662.8 1810.9h0M663.5 1917.8h0M664.2 1954.7h0M665 1903.8h0M665.7 1841.2h0M666.4 1914.4h0M667.1 1892.5h0M667.8 1901.2h0M668.5 1868.7h0M669.2 1848.2h0M669.9 1868.1h0M670.6 1875.4h0M671.3 1893.9h0M672 1844.3h0M672.7 1846.5h0M673.5 1885.1h0M674.2 1906.6h0M674.9 1900.2h0M675.6 1870.4h0M676.3 1888.8h0M677 1899.3h0M677.7 1883.9h0M678.4 1839.7h0M679.1 1894.7h0M679.8 1897.1h0M680.5 1893h0M681.2 1910.3h0M681.9 1904h0M682.7 1899.1h0M683.4 1936.6h0M684.1 1881.5h0M684.8 1908.7h0M685.5 1883.2h0M686.2 1870.1h0M686.9 1928h0M687.6 1906.2h0M688.3 1905.6h0M689 1919.5h0M689.7 1913.4h0M690.4 1866.2h0M691.2 1819.8h0M691.9 1876.1h0M692.6 1859h0M693.3 1859.4h0M694 1920.8h0M694.7 1863.9h0M695.4 1865.3h0M696.1 1893h0M696.8 1872.9h0M697.5 1850.9h0M698.2 1921.6h0M698.9 1837.8h0M699.6 1882.1h0M700.4 1877.5h0M701.1 1902h0M701.8 1835.8h0M702.5 1864.5h0M703.2 1854.1h0M703.9 1821.9h0M704.6 1859.5h0M705.3 1851.4h0M706 1874.5h0M706.7 1857.5h0M707.4 1859.5h0M708.1 1903.6h0M708.9 1922.2h0M709.6 1896.1h0M710.3 1884.1h0M711 1832.8h0M711.7 1847.1h0M712.4 1889.4h0M713.1 1886.9h0M713.8 1867.7h0M714.5 1896.2h0M715.2 1839.8h0M715.9 1837.5h0M716.6 1831.8h0M717.3 1880h0M718.1 1864.5h0M718.8 1868.4h0M719.5 1886.2h0M720.2 1889h0M720.9 1828.3h0M721.6 1877.1h0M722.3 1905h0M723 1878.8h0M723.7 1879.8h0M724.4 1939.6h0M725.1 1857.3h0M725.8 1877.5h0M726.6 1867.9h0M727.3 1886.2h0M728 1857.6h0M728.7 1875h0M729.4 1868.5h0M730.1 1908.2h0M730.8 1897h0M731.5 1916.6h0M732.2 1891.7h0M732.9 1858.5h0M733.6 1879.5h0M734.3 1877.3h0M735 1860.5h0M735.8 1913.6h0M736.5 1865.6h0M737.2 1876.9h0M737.9 1877.8h0M738.6 1817.7h0M739.3 1873.7h0M740 1922.2h0M740.7 1894.3h0M741.4 1867h0M742.1 1830.8h0M742.8 1862h0M743.5 1915h0M744.3 1861.4h0M745 1849.4h0M745.7 1831.4h0M746.4 1867.6h0M747.1 1865.7h0M747.8 1900.6h0M748.5 1865.7h0M749.2 1892h0M749.9 1853.7h0M750.6 1914.6h0M751.3 1917.7h0M752 1856.6h0M752.7 1871.6h0M753.5 1909.3h0M754.2 1882.1h0M754.9 1895.3h0M755.6 1876.4h0M756.3 1845.6h0M757 1877.7h0M757.7 1909.2h0M758.4 1941.4h0M759.1 1921h0M759.8 1890.6h0M760.5 1900.7h0M761.2 1900h0M762 1919.4h0M762.7 1894.2h0M763.4 1929.8h0M764.1 1879.6h0M764.8 1893.1h0M765.5 1893.1h0M766.2 1867.9h0M766.9 1882.5h0M767.6 1885.7h0M768.3 1898.2h0M769 1865.2h0M769.7 1885.4h0M770.4 1866.2h0M771.2 1856.3h0M771.9 1927.9h0M772.6 1867.5h0M773.3 1912.6h0M774 1872.6h0M774.7 1888.5h0M775.4 1866.8h0M776.1 1867.8h0M776.8 1875.8h0M777.5 1901.8h0M778.2 1852.5h0M778.9 1909.4h0M779.7 1886.9h0M780.4 1864.5h0M781.1 1859.8h0M781.8 1869.3h0M782.5 1902.2h0M783.2 1913.1h0M783.9 1893.3h0M784.6 1866.2h0M785.3 1883.1h0M786 1921.7h0M786.7 1878.9h0M787.4 1874.4h0M788.1 1870.8h0M788.9 1954.7h0M789.6 1914h0M790.3 1883.2h0M791 1920.2h0M791.7 1861.6h0M792.4 1905h0M793.1 1874.2h0M793.8 1830.2h0M794.5 1899.5h0M795.2 1850.6h0M795.9 1936.7h0M796.6 1912.6h0M797.4 1901.3h0M798.1 1883.1h0M798.8 1891.7h0M799.5 1893.6h0M800.2 1901.5h0M800.9 1923.5h0M801.6 1921.9h0M802.3 1906.3h0M803 1884.4h0M803.7 1867.2h0M804.4 1868h0M805.1 1951.1h0M805.8 1919.3h0M806.6 1933.5h0M807.3 1881.3h0M808 1905.8h0M808.7 1904.6h0M809.4 1914.6h0M810.1 1875.5h0M810.8 1903.5h0M811.5 1850.4h0M812.2 1887.9h0M812.9 1916.2h0M813.6 1896.4h0M814.3 1902h0M815.1 1895.2h0M815.8 1940.7h0M816.5 1923h0M817.2 1886.1h0M817.9 1917.3h0M818.6 1940.6h0M819.3 1925.3h0M820 1909.1h0M820.7 1893.2h0M821.4 1928.8h0M822.1 1912.6h0M822.8 1922.6h0M823.5 1905.5h0M824.3 1903.1h0M825 1887h0M825.7 1913.3h0M826.4 1970.5h0M827.1 1916.5h0M827.8 1897.8h0M828.5 1926.4h0M829.2 1938.3h0M829.9 1899.3h0M830.6 1953.2h0M831.3 1962.1h0M832 1902.4h0M832.8 1952.8h0M833.5 1915.9h0M834.2 1903.2h0M834.9 1949.9h0M835.6 1974.6h0M836.3 1931.5h0M837 1895.6h0M837.7 1951h0M838.4 1924h0M839.1 1933.2h0M839.8 1939h0M840.5 1875.6h0M841.2 1927.5h0M842 1917.3h0M842.7 1887.1h0M843.4 1885.1h0M844.1 1865h0M844.8 1896h0M845.5 1901.1h0M846.2 1905.1h0M846.9 1951.7h0M847.6 1899.3h0M848.3 1922.2h0M849 1898.3h0M849.7 1902.5h0M850.5 1892.9h0M851.2 1930.1h0M851.9 1939.5h0M852.6 1923.6h0M853.3 1938.7h0M854 1893.4h0M854.7 1928.9h0M855.4 1927.6h0M856.1 1868.4h0M856.8 1911.1h0M857.5 1943.8h0M858.2 1966h0M858.9 1907.6h0M859.7 1878.6h0M860.4 1941.1h0M861.1 1920.5h0M861.8 1922h0M862.5 1911.3h0M863.2 1963.7h0M863.9 1927.5h0M864.6 1968.3h0M865.3 1893.5h0M866 1907.7h0M866.7 1940.9h0M867.4 1932.3h0M868.2 1918.7h0M868.9 1902h0M869.6 1964.7h0M870.3 1940.2h0M871 1940.8h0M871.7 1909.7h0M872.4 1895.9h0M873.1 1869.2h0M873.8 1931.4h0M874.5 1912.5h0M875.2 1915h0M875.9 1937.1h0M876.6 1901.1h0M877.4 1903.4h0M878.1 1908.3h0M878.8 1936.7h0M879.5 1881.5h0M880.2 1898.4h0M880.9 1908.1h0M881.6 1939.4h0M882.3 1848.4h0M883 1897.3h0M883.7 1896h0M884.4 1913.4h0M885.1 1887h0M885.9 1915.6h0M886.6 1891.5h0M887.3 1869h0M888 1905.5h0M888.7 1912.3h0M889.4 1887h0M890.1 1881.3h0M890.8 1850.7h0M891.5 1856.6h0M892.2 1866.6h0M892.9 1841.1h0M893.6 1871.5h0M894.3 1846.2h0M895.1 1860.9h0M895.8 1853h0M896.5 1894h0M897.2 1895.9h0M897.9 1894.4h0M898.6 1869h0M899.3 1889.3h0M900 1880.9h0M900.7 1867.7h0M901.4 1906.4h0M902.1 1893.9h0M902.8 1893.1h0M903.6 1880.7h0M904.3 1862.5h0M905 1858.3h0M905.7 1871.2h0M906.4 1872.8h0M907.1 1896.6h0M907.8 1873.3h0M908.5 1900.3h0M909.2 1881.7h0M909.9 1879.2h0M910.6 1844.9h0M911.3 1853.8h0M912 1834h0M912.8 1859.4h0M913.5 1837.7h0M914.2 1915.6h0M914.9 1878.9h0M915.6 1903.8h0M916.3 1903.9h0M917 1844.8h0M917.7 1916h0M918.4 1897.9h0M919.1 1917.3h0M919.8 1872.4h0M920.5 1903.6h0M921.3 1913.4h0M922 1866.9h0M922.7 1854.6h0M923.4 1924.8h0M924.1 1865.1h0M924.8 1942.2h0M925.5 1853.7h0M926.2 1838.5h0M926.9 1886.6h0M927.6 1869.8h0M928.3 1853.1h0M929 1877.7h0M929.7 1818.2h0M930.5 1912.7h0M931.2 1860.5h0M931.9 1839.6h0M932.6 1832.3h0M933.3 1878.4h0M934 1924.3h0M934.7 1869.9h0M935.4 1887.4h0M936.1 1918.9h0M936.8 1865.9h0M937.5 1910.3h0M938.2 1850.3h0M939 1870.8h0M939.7 1861.7h0M940.4 1840.1h0M941.1 1940.6h0M941.8 1875.7h0M942.5 1878.5h0M943.2 1870.3h0M943.9 1888.1h0M944.6 1903.5h0M945.3 1909.5h0M946 1903.9h0M946.7 1901.8h0M947.4 1916.8h0M948.2 1844.2h0M948.9 1882.9h0M949.6 1899.8h0M950.3 1843.3h0M951 1857h0M951.7 1810h0M952.4 1899.5h0M953.1 1861.6h0M953.8 1871.8h0M954.5 1892.6h0M955.2 1841.5h0M955.9 1882.8h0M956.7 1870.5h0M957.4 1870.2h0M958.1 1891.9h0M958.8 1863.9h0M959.5 1909.8h0M960.2 1872.7h0M960.9 1880h0M961.6 1869.8h0M962.3 1795.2h0M963 1918.7h0M963.7 1845.5h0M964.4 1847.2h0M965.1 1859.1h0M965.9 1863.7h0M975.8 1813.7h0M976.5 1824.7h0M977.2 1857.1h0M977.9 1860.8h0M978.6 1860.6h0M979.3 1853.2h0M980 1853.1h0M980.7 1827.8h0M981.4 1897.3h0M982.1 1861h0M982.8 1863.1h0M983.6 1883.8h0M984.3 1851.9h0M985 1819.9h0M985.7 1846.5h0M986.4 1849.4h0M987.1 1843.3h0M987.8 1816.5h0M988.5 1778.6h0M989.2 1839.5h0M989.9 1840.9h0M990.6 1822.5h0M991.3 1862.6h0M992.1 1803.1h0M992.8 1831.5h0M993.5 1886.9h0M419.2 1885.7h0M420 1891h0M429.5 1872.5h0M430.4 1877h0M422 1907h0M429.5 1901h0M422 1918h0M419.8 1927.5h0M425 1924h0M422 1930h0M426.5 1933.6h0M424.2 1939h0M428 1938h0M434.5 1942.5h0M426.5 1953h0M423 1979.8h0M421 1815h0M427 1840h0M431 1800h0M974 1910h0M967.6 1937h0M968.5 1966.7h0M973.4 1967h0M972.6 1975h0M969.8 1979h0M969 1981h0M972 1983.8h0M968 1840h0M973.5 1872h0M970 1815h0M843.2 1756h0M809.4 1769h0M902.4 1797.4h0M932.7 1792.5h0M963 1793h0M813 1842.6h0M926.6 1968.4h0M825.3 1975h0M830 1973h0M376 1756h0M569.5 1746h0M284.5 1769h0M242.5 1782.5h0M526.5 1771h0M516.5 1776h0M582.5 1934.5h0M673 1943h0M683.5 1942h0M681 1957h0M722 1939h0M745 1933.5h0M706.5 1932h0"/>
<path class="tr" d="M594.8 1837 L594.9 1896.3 L595.2 1943.7 L595.5 2000.1 L595.8 2034.8 L596.1 2056.4 L596.7 2074.2 L597.2 2089 L597.9 2103.8 L598.7 2112.7 L599.6 2120.2 L600.7 2126.1 L601.9 2130.5 L602.9 2132.9 L603.5 2133.5 L604.1 2132.9 L605.1 2130.5 L606.3 2126.1 L607.4 2120.2 L608.3 2112.7 L609.1 2103.8 L609.8 2089 L610.3 2074.2 L610.9 2056.4 L611.2 2034.8 L611.5 2000.1 L611.8 1943.7 L612.1 1896.3 L612.2 1837"/>
<path class="tk" d="M187.2 1766.4h17.2M1019.3 1766.4h-17.2M187.2 1862.8h17.2M1019.3 1862.8h-17.2M187.2 1959.1h17.2M1019.3 1959.1h-17.2M187.2 2055.5h17.2M1019.3 2055.5h-17.2M187.2 2151.9h17.2M1019.3 2151.9h-17.2M252.9 1728v17.2M252.9 2219.2v-17.2M426.1 1728v17.2M426.1 2219.2v-17.2M599.3 1728v17.2M599.3 2219.2v-17.2M772.5 1728v17.2M772.5 2219.2v-17.2M945.7 1728v17.2M945.7 2219.2v-17.2"/>
<rect class="sp" x="187.2" y="1728" width="832.1" height="491.2"/>
<text class="n" x="170.3" y="1780" text-anchor="end" textLength="120.3" lengthAdjust="spacingAndGlyphs">1.0005</text>
<text class="n" x="170.3" y="1876.4" text-anchor="end" textLength="120.3" lengthAdjust="spacingAndGlyphs">1.0000</text>
<text class="n" x="170.3" y="1972.7" text-anchor="end" textLength="120.3" lengthAdjust="spacingAndGlyphs">0.9995</text>
<text class="n" x="170.3" y="2069.1" text-anchor="end" textLength="120.3" lengthAdjust="spacingAndGlyphs">0.9990</text>
<text class="n" x="170.3" y="2165.5" text-anchor="end" textLength="120.3" lengthAdjust="spacingAndGlyphs">0.9985</text>
<text class="n" x="252.7" y="2270" text-anchor="middle" textLength="84.3" lengthAdjust="spacingAndGlyphs">1230</text>
<text class="n" x="425.9" y="2270" text-anchor="middle" textLength="84.3" lengthAdjust="spacingAndGlyphs">1235</text>
<text class="n" x="599.1" y="2270" text-anchor="middle" textLength="84.3" lengthAdjust="spacingAndGlyphs">1240</text>
<text class="n" x="772.3" y="2270" text-anchor="middle" textLength="84.3" lengthAdjust="spacingAndGlyphs">1245</text>
<text class="n" x="945.5" y="2270" text-anchor="middle" textLength="84.3" lengthAdjust="spacingAndGlyphs">1250</text>
<text class="yl" transform="translate(34.6 1973) rotate(-90)" text-anchor="middle" textLength="243" lengthAdjust="spacingAndGlyphs">Relative flux</text>
<text class="t" x="438.9" y="2068" textLength="23.9" lengthAdjust="spacingAndGlyphs">b</text>
<text class="t" y="2068"><tspan x="620.6" textLength="13.6" lengthAdjust="spacingAndGlyphs">f</tspan> <tspan x="653.6" textLength="161.7" lengthAdjust="spacingAndGlyphs">(unseen)</tspan></text>
<text class="t" x="937.7" y="2068" textLength="23.9" lengthAdjust="spacingAndGlyphs">b</text>
</g>
<text class="t" y="2322.5"><tspan x="370" textLength="218" lengthAdjust="spacingAndGlyphs">Time [BJD</tspan> <tspan x="600" textLength="33" lengthAdjust="spacingAndGlyphs">−</tspan> <tspan x="642.7" textLength="193.5" lengthAdjust="spacingAndGlyphs">2,454,950]</tspan></text>
</svg>
</body>
</html>
